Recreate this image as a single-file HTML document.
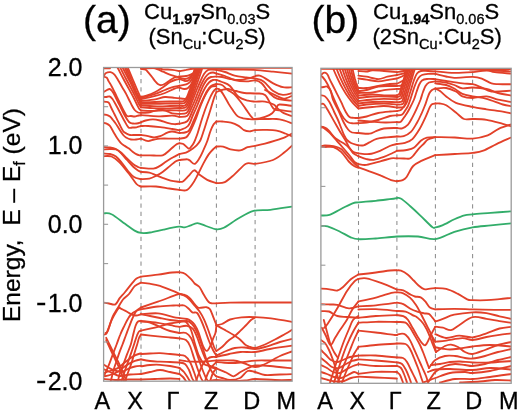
<!DOCTYPE html>
<html><head><meta charset="utf-8"><style>
html,body{margin:0;padding:0;background:#fff;}
svg{display:block;}
</style></head><body>
<svg width="520" height="414" viewBox="0 0 520 414">
<rect width="520" height="414" fill="#fff"/>
<clipPath id="ca"><rect x="103.6" y="67.5" width="188.5" height="313.7"/></clipPath>
<line x1="141.0" y1="67.5" x2="141.0" y2="381.2" stroke="#8c8c8c" stroke-width="1.05" stroke-dasharray="4.2,4.1" stroke-dashoffset="5.1"/>
<line x1="179.5" y1="67.5" x2="179.5" y2="381.2" stroke="#8c8c8c" stroke-width="1.05" stroke-dasharray="4.2,4.1" stroke-dashoffset="5.1"/>
<line x1="216.4" y1="67.5" x2="216.4" y2="381.2" stroke="#8c8c8c" stroke-width="1.05" stroke-dasharray="4.2,4.1" stroke-dashoffset="5.1"/>
<line x1="255.1" y1="67.5" x2="255.1" y2="381.2" stroke="#8c8c8c" stroke-width="1.05" stroke-dasharray="4.2,4.1" stroke-dashoffset="5.1"/>
<g clip-path="url(#ca)" fill="none" stroke-linejoin="round" stroke-linecap="round">
<filter id="fca" x="-5%" y="-5%" width="110%" height="110%"><feGaussianBlur stdDeviation="0.5"/></filter>
<g stroke="#e24129" stroke-width="1.85" filter="url(#fca)">
<path d="M103.6,76.5 C104.0,75.9 104.8,73.7 106.0,73.0 C107.2,72.3 109.2,71.9 110.6,72.2 C112.0,72.5 113.2,73.2 114.5,74.6 C115.8,76.0 117.0,78.3 118.3,80.4 C119.6,82.5 120.9,85.0 122.2,87.2 C123.5,89.5 125.0,91.8 126.1,93.9 C127.2,96.0 128.0,97.8 129.0,99.7 C130.0,101.6 131.0,103.8 131.9,105.5 C132.8,107.2 133.7,108.8 134.7,110.0 C135.7,111.2 136.9,112.0 138.0,112.5 C139.1,113.0 140.5,112.8 141.0,112.8"/>
<path d="M103.6,76.8 C104.1,77.0 105.9,77.0 106.8,77.8 C107.7,78.6 107.9,80.0 108.7,81.4 C109.5,82.8 110.6,84.4 111.6,86.2 C112.6,88.0 113.5,90.1 114.5,92.0 C115.5,93.9 116.4,95.8 117.4,97.8 C118.4,99.8 119.2,101.7 120.3,104.0 C121.4,106.3 123.0,109.5 124.1,111.5 C125.2,113.5 125.9,115.2 127.0,116.0 C128.1,116.8 129.6,115.9 130.9,116.0 C132.2,116.1 133.4,116.6 134.7,116.5 C136.0,116.4 137.5,115.7 138.6,115.5 C139.7,115.3 140.6,115.2 141.0,115.2"/>
<path d="M103.6,92.0 C104.2,91.7 106.0,90.5 107.0,90.0 C108.0,89.5 108.9,88.8 109.7,89.0 C110.5,89.2 111.2,90.0 112.0,91.0 C112.8,92.0 113.3,92.7 114.5,95.0 C115.7,97.3 117.7,101.5 119.3,104.7 C120.9,107.9 122.5,111.4 124.1,114.3 C125.7,117.2 127.5,120.5 129.0,122.0 C130.4,123.5 131.5,123.2 132.8,123.5 C134.1,123.8 135.3,123.7 136.7,123.5 C138.1,123.3 140.3,122.5 141.0,122.3"/>
<path d="M103.6,97.0 C104.0,97.0 105.0,97.1 106.0,97.0 C107.0,96.9 108.6,96.2 109.7,96.5 C110.8,96.8 111.5,97.6 112.5,99.0 C113.5,100.4 114.8,102.8 116.0,105.0 C117.2,107.2 118.6,109.8 120.0,112.5 C121.4,115.2 123.1,118.5 124.5,121.0 C125.9,123.5 127.2,126.4 128.5,127.5 C129.8,128.6 131.2,127.5 132.5,127.5 C133.8,127.5 135.1,127.5 136.5,127.3 C137.9,127.0 140.2,126.2 141.0,126.0"/>
<path d="M103.6,101.5 C104.0,101.5 104.9,101.6 105.8,101.8 C106.7,102.0 107.7,101.6 108.7,102.7 C109.7,103.8 110.6,106.6 111.6,108.5 C112.6,110.4 113.5,112.4 114.5,114.3 C115.5,116.2 116.4,118.2 117.4,120.1 C118.4,122.0 119.3,124.1 120.3,125.9 C121.3,127.8 122.2,129.9 123.2,131.2 C124.2,132.5 125.4,132.9 126.5,133.5 C127.6,134.1 128.6,134.8 130.0,135.0 C131.4,135.2 133.2,135.0 135.0,135.0 C136.8,135.0 140.0,135.0 141.0,135.0"/>
<path d="M103.6,114.5 C104.1,114.5 105.5,114.5 106.6,114.8 C107.7,115.1 108.9,115.6 110.0,116.5 C111.1,117.4 112.0,118.8 113.0,120.0 C114.0,121.2 114.7,122.0 115.7,123.5 C116.8,125.0 118.1,127.4 119.3,129.3 C120.5,131.2 121.9,133.4 123.0,134.8 C124.1,136.2 124.7,136.7 126.0,137.5 C127.3,138.3 129.3,139.2 131.0,139.5 C132.7,139.8 134.3,139.7 136.0,139.5 C137.7,139.3 140.2,138.8 141.0,138.6"/>
<path d="M103.6,123.0 C104.0,123.0 105.0,122.8 106.0,123.3 C107.0,123.8 108.5,124.3 109.7,125.7 C110.9,127.1 112.1,129.7 113.3,131.7 C114.5,133.7 115.7,136.0 116.9,137.8 C118.1,139.6 119.3,141.3 120.5,142.6 C121.7,143.9 122.8,144.6 124.2,145.6 C125.6,146.6 127.6,147.6 129.0,148.6 C130.4,149.6 131.4,150.8 132.6,151.7 C133.8,152.6 135.0,153.5 136.2,154.1 C137.3,154.7 138.7,155.1 139.5,155.3 C140.3,155.5 140.8,155.3 141.0,155.3"/>
<path d="M103.6,147.0 C104.7,147.1 107.9,147.2 110.0,147.5 C112.1,147.8 114.2,148.2 116.0,149.0 C117.8,149.8 119.2,150.9 121.0,152.5 C122.8,154.1 125.0,156.6 127.0,158.5 C129.0,160.4 131.2,162.6 133.0,164.0 C134.8,165.4 136.7,166.3 138.0,167.0 C139.3,167.7 140.5,167.8 141.0,167.9"/>
<path d="M103.6,149.5 C104.7,149.4 107.9,149.0 110.0,149.0 C112.1,149.0 114.2,148.8 116.0,149.5 C117.8,150.2 119.2,151.2 121.0,153.0 C122.8,154.8 125.0,157.8 127.0,160.0 C129.0,162.2 131.2,164.8 133.0,166.5 C134.8,168.2 136.7,169.6 138.0,170.5 C139.3,171.4 140.5,171.7 141.0,171.9"/>
<path d="M103.6,153.5 C104.7,153.6 107.9,153.5 110.0,154.0 C112.1,154.5 114.0,155.0 116.0,156.5 C118.0,158.0 120.0,160.6 122.0,163.0 C124.0,165.4 126.0,168.7 128.0,171.0 C130.0,173.3 131.8,175.6 134.0,177.0 C136.2,178.4 139.8,178.8 141.0,179.2"/>
<path d="M103.6,156.2 C104.9,156.2 108.9,155.5 111.5,156.5 C114.1,157.5 116.3,159.2 119.2,162.0 C122.1,164.8 125.9,169.8 128.8,173.5 C131.7,177.2 134.5,181.8 136.5,184.0 C138.5,186.2 140.2,186.1 141.0,186.5"/>
<path d="M117.5,67.5 C118.5,69.3 121.3,74.9 123.2,78.5 C125.1,82.1 127.2,85.8 129.0,89.1 C130.8,92.3 132.5,95.5 133.8,98.0 C135.1,100.5 135.8,102.2 136.7,104.0 C137.6,105.8 138.3,107.4 139.0,108.5 C139.7,109.6 140.7,110.2 141.0,110.5"/>
<path d="M120.2,67.5 C121.1,69.3 123.9,75.0 125.8,78.5 C127.7,82.0 129.6,85.6 131.3,88.8 C133.0,92.0 134.6,95.0 135.8,97.5 C137.0,100.0 137.7,101.8 138.6,103.5 C139.5,105.2 140.6,106.8 141.0,107.4"/>
<path d="M122.6,67.5 C123.5,69.2 126.3,74.7 128.0,78.0 C129.7,81.3 131.5,84.5 133.0,87.5 C134.5,90.5 136.1,93.6 137.2,96.0 C138.3,98.4 139.2,100.4 139.8,102.0 C140.4,103.6 140.8,104.9 141.0,105.5"/>
<path d="M124.8,67.5 C125.7,69.6 128.4,76.1 130.0,80.0 C131.6,83.9 133.1,87.9 134.5,91.0 C135.9,94.1 137.4,96.4 138.5,98.5 C139.6,100.6 140.6,102.9 141.0,103.8"/>
<path d="M126.3,67.5 C127.2,69.6 129.9,76.1 131.5,80.0 C133.1,83.9 134.7,88.0 136.0,91.0 C137.3,94.0 138.7,96.1 139.5,98.0 C140.3,99.9 140.8,101.8 141.0,102.5"/>
<path d="M127.8,67.5 C128.7,69.6 131.4,76.2 133.0,80.0 C134.6,83.8 136.3,87.7 137.5,90.5 C138.7,93.3 139.7,95.2 140.3,97.0 C140.9,98.8 140.9,100.3 141.0,101.0"/>
<path d="M104.0,68.2 L110.0,68.2"/>
<path d="M141.0,68.5 C143.4,68.4 151.6,67.9 155.3,68.0 C159.0,68.1 160.1,69.0 163.0,69.3 C165.9,69.6 169.9,69.5 172.7,69.8 C175.4,70.1 178.4,71.0 179.5,71.2"/>
<path d="M141.0,68.8 C141.8,69.0 144.4,69.1 145.7,69.8 C146.9,70.5 147.4,71.4 148.5,72.7 C149.6,74.0 151.3,76.0 152.4,77.5 C153.5,79.0 154.3,80.3 155.3,81.4 C156.3,82.5 157.2,83.7 158.2,84.3 C159.2,84.9 160.0,85.3 161.1,85.2 C162.2,85.1 163.6,84.6 165.0,83.8 C166.4,83.0 168.2,81.5 169.8,80.4 C171.4,79.4 173.0,78.2 174.6,77.5 C176.2,76.8 178.7,76.7 179.5,76.5"/>
<path d="M150.0,67.5 C151.2,67.8 154.8,68.3 157.0,69.0 C159.2,69.7 160.9,70.8 163.0,71.7 C165.1,72.6 167.9,73.9 169.8,74.6 C171.7,75.3 173.0,75.6 174.6,76.1 C176.2,76.6 178.7,77.3 179.5,77.5"/>
<path d="M141.0,96.8 C141.8,96.7 143.3,96.7 145.7,95.9 C148.1,95.1 152.4,93.5 155.3,92.0 C158.2,90.5 160.6,88.8 163.0,87.2 C165.4,85.6 167.6,83.6 169.8,82.3 C172.1,81.0 174.9,80.0 176.5,79.5 C178.1,79.0 179.0,79.1 179.5,79.0"/>
<path d="M141.0,97.8 C143.4,97.2 151.3,95.2 155.3,93.9 C159.3,92.6 162.1,91.1 165.0,90.0 C167.9,88.9 170.3,87.9 172.7,87.2 C175.1,86.5 178.4,86.0 179.5,85.7"/>
<path d="M141.0,99.0 C143.4,98.5 151.3,96.9 155.3,95.9 C159.3,94.9 161.8,94.2 165.0,93.0 C168.2,91.8 172.2,89.5 174.6,88.6 C177.0,87.7 178.7,87.7 179.5,87.5"/>
<path d="M141.0,101.0 C143.4,100.7 151.3,100.0 155.3,99.3 C159.3,98.6 161.8,97.2 165.0,97.0 C168.2,96.8 172.2,97.6 174.6,97.8 C177.0,98.0 178.7,98.2 179.5,98.3"/>
<path d="M141.0,102.5 C143.3,102.4 150.2,102.2 155.0,102.0 C159.8,101.8 165.9,101.6 170.0,101.5 C174.1,101.4 177.9,101.5 179.5,101.5"/>
<path d="M141.0,103.8 C142.5,103.8 146.8,103.8 150.0,103.8 C153.2,103.8 156.7,103.8 160.0,103.8 C163.3,103.8 166.8,103.5 170.0,103.5 C173.2,103.5 177.9,103.5 179.5,103.5"/>
<path d="M141.0,105.5 C142.5,105.6 146.8,105.9 150.0,106.0 C153.2,106.1 156.7,106.3 160.0,106.3 C163.3,106.3 166.8,106.1 170.0,106.0 C173.2,105.9 177.9,105.8 179.5,105.8"/>
<path d="M141.0,107.4 C142.5,107.5 146.8,107.8 150.0,108.0 C153.2,108.2 156.7,108.5 160.0,108.5 C163.3,108.5 166.8,108.4 170.0,108.3 C173.2,108.2 177.9,108.0 179.5,108.0"/>
<path d="M141.0,110.5 C142.5,110.5 146.8,110.8 150.0,110.8 C153.2,110.8 156.7,110.7 160.0,110.6 C163.3,110.5 166.8,110.2 170.0,110.2 C173.2,110.2 177.9,110.5 179.5,110.5"/>
<path d="M141.0,112.8 C142.2,112.8 145.9,112.8 148.1,112.5 C150.3,112.2 152.1,111.4 154.1,110.9 C156.1,110.4 158.2,109.7 160.2,109.7 C162.2,109.7 164.2,110.3 166.2,110.9 C168.2,111.5 170.0,112.8 172.2,113.3 C174.4,113.8 178.3,113.8 179.5,113.9"/>
<path d="M141.0,115.2 C142.2,115.3 144.9,115.5 148.1,115.7 C151.3,115.9 156.2,116.3 160.2,116.3 C164.2,116.3 169.0,115.6 172.2,115.7 C175.4,115.8 178.3,116.7 179.5,116.9"/>
<path d="M141.0,122.3 C141.8,122.0 143.7,121.0 145.7,120.5 C147.7,120.0 150.5,119.3 152.9,119.3 C155.3,119.3 157.8,119.9 160.2,120.5 C162.6,121.1 165.0,122.3 167.4,122.9 C169.8,123.5 172.6,124.1 174.6,124.2 C176.6,124.3 178.7,123.7 179.5,123.6"/>
<path d="M141.0,126.0 C142.2,126.0 144.9,125.8 148.1,126.0 C151.3,126.2 156.2,126.7 160.2,127.2 C164.2,127.7 169.0,128.5 172.2,129.0 C175.4,129.5 178.3,130.0 179.5,130.2"/>
<path d="M141.0,135.0 C142.2,135.2 145.9,135.8 148.1,136.2 C150.3,136.6 152.1,137.4 154.1,137.4 C156.1,137.4 158.0,137.0 160.2,136.2 C162.4,135.4 165.4,133.4 167.4,132.6 C169.4,131.8 170.2,131.4 172.2,131.5 C174.2,131.6 178.3,132.8 179.5,133.0"/>
<path d="M141.0,138.6 C142.2,139.0 145.9,140.9 148.1,141.1 C150.3,141.2 152.1,139.9 154.1,139.5 C156.1,139.1 157.2,138.8 160.2,138.6 C163.2,138.4 169.0,138.6 172.2,138.6 C175.4,138.6 178.3,138.6 179.5,138.6"/>
<path d="M141.0,155.3 C142.5,155.3 146.4,155.3 150.0,155.3 C153.6,155.3 159.2,156.3 162.6,155.3 C166.0,154.3 168.4,151.1 170.6,149.3 C172.8,147.5 174.4,145.7 175.9,144.7 C177.4,143.7 178.9,143.5 179.5,143.3"/>
<path d="M141.0,167.9 C143.1,168.0 150.1,168.9 153.3,168.6 C156.5,168.3 157.8,167.1 160.0,165.9 C162.2,164.7 164.4,162.7 166.6,161.3 C168.8,159.9 171.0,158.5 173.2,157.3 C175.3,156.1 178.4,154.6 179.5,154.0"/>
<path d="M141.0,179.2 C142.4,179.1 146.8,179.1 149.3,178.6 C151.8,178.1 153.8,177.0 156.0,175.9 C158.2,174.8 160.4,173.5 162.6,171.9 C164.8,170.3 167.0,168.4 169.2,166.6 C171.4,164.8 174.2,162.4 175.9,161.3 C177.6,160.2 178.9,160.2 179.5,160.0"/>
<path d="M141.0,171.9 C142.4,172.0 146.8,172.1 149.3,172.6 C151.8,173.1 153.8,174.3 156.0,175.2 C158.2,176.1 160.2,177.0 162.6,177.9 C165.0,178.8 167.8,179.9 170.6,180.6 C173.4,181.3 178.0,181.7 179.5,181.9"/>
<path d="M141.0,186.5 C143.5,186.5 151.3,186.2 156.0,186.5 C160.7,186.8 165.3,187.9 169.2,188.5 C173.1,189.1 177.8,189.7 179.5,189.9"/>
<path d="M179.5,71.2 C180.6,71.0 183.6,70.2 186.2,69.8 C188.8,69.3 191.9,68.8 195.0,68.5 C198.1,68.2 201.4,68.2 205.0,68.3 C208.6,68.3 214.5,68.7 216.4,68.8"/>
<path d="M179.5,76.5 C180.6,76.4 184.1,76.4 186.2,76.0 C188.3,75.6 191.0,74.3 192.0,74.0"/>
<path d="M179.5,77.5 C180.4,77.8 183.2,79.1 185.0,79.0 C186.8,78.9 188.5,78.2 190.0,77.0 C191.5,75.8 193.0,73.6 194.0,72.0 C195.0,70.4 195.7,68.2 196.0,67.5"/>
<path d="M179.5,79.0 C180.4,79.3 183.4,80.8 185.0,81.0 C186.6,81.2 187.7,81.2 189.0,80.0 C190.3,78.8 192.0,76.0 193.0,74.0 C194.0,72.0 194.7,69.0 195.0,68.0"/>
<path d="M179.5,85.7 C180.6,85.5 184.4,84.9 186.2,84.3 C187.9,83.7 188.8,83.4 190.0,82.0 C191.2,80.6 192.4,78.3 193.5,76.0 C194.6,73.7 196.0,69.3 196.5,68.0"/>
<path d="M179.5,87.5 C180.2,87.8 182.6,88.9 184.0,89.0 C185.4,89.1 186.7,89.0 188.0,88.0 C189.3,87.0 190.5,86.0 192.0,83.0 C193.5,80.0 196.0,72.6 197.0,70.0 C198.0,67.4 197.8,67.9 198.0,67.5"/>
<path d="M179.5,98.3 C180.6,98.4 184.5,99.4 186.2,98.7 C187.9,98.0 188.4,96.5 189.5,94.0 C190.6,91.5 191.9,87.2 193.0,84.0 C194.1,80.8 195.0,77.8 196.0,75.0 C197.0,72.2 198.5,68.8 199.0,67.5"/>
<path d="M179.5,101.5 C180.2,101.4 182.8,101.8 184.0,101.0 C185.2,100.2 186.0,99.0 187.0,97.0 C188.0,95.0 189.0,91.8 190.0,89.0 C191.0,86.2 192.0,83.0 193.0,80.0 C194.0,77.0 195.3,73.1 196.0,71.0 C196.7,68.9 197.1,68.1 197.3,67.5"/>
<path d="M179.5,103.5 C180.3,103.4 183.1,103.9 184.5,103.0 C185.9,102.1 186.9,100.2 188.0,98.0 C189.1,95.8 190.0,92.8 191.0,90.0 C192.0,87.2 193.0,84.0 194.0,81.0 C195.0,78.0 196.2,74.2 197.0,72.0 C197.8,69.8 198.2,68.2 198.5,67.5"/>
<path d="M179.5,105.8 C180.4,105.8 183.5,106.5 185.0,105.5 C186.5,104.5 187.4,102.2 188.5,100.0 C189.6,97.8 190.5,94.8 191.5,92.0 C192.5,89.2 193.5,86.0 194.5,83.0 C195.5,80.0 196.6,76.6 197.5,74.0 C198.4,71.4 199.4,68.6 199.8,67.5"/>
<path d="M179.5,108.0 C180.5,107.9 183.9,108.5 185.5,107.5 C187.1,106.5 187.9,104.2 189.0,102.0 C190.1,99.8 191.0,96.8 192.0,94.0 C193.0,91.2 194.0,88.0 195.0,85.0 C196.0,82.0 197.0,78.9 198.0,76.0 C199.0,73.1 200.5,68.9 201.0,67.5"/>
<path d="M179.5,110.5 C180.6,110.4 184.3,111.0 186.0,110.0 C187.7,109.0 188.4,106.8 189.5,104.5 C190.6,102.2 191.5,99.2 192.5,96.5 C193.5,93.8 194.4,91.1 195.5,88.0 C196.6,84.9 197.8,81.4 199.0,78.0 C200.2,74.6 201.9,69.2 202.5,67.5"/>
<path d="M179.5,113.9 C180.7,113.8 184.8,114.2 186.5,113.0 C188.2,111.8 188.8,109.5 190.0,107.0 C191.2,104.5 192.3,101.0 193.5,98.0 C194.7,95.0 195.8,91.8 197.0,89.0 C198.2,86.2 199.3,83.5 200.5,81.0 C201.7,78.5 202.8,75.8 204.0,74.0 C205.2,72.2 206.7,70.8 208.0,70.0 C209.3,69.2 210.6,69.5 212.0,69.5 C213.4,69.5 215.7,69.9 216.4,70.0"/>
<path d="M179.5,116.9 C180.8,116.8 185.1,117.3 187.0,116.0 C188.9,114.7 189.7,111.7 191.0,109.0 C192.3,106.3 193.8,103.0 195.0,100.0 C196.2,97.0 197.3,93.8 198.5,91.0 C199.7,88.2 200.8,85.3 202.0,83.0 C203.2,80.7 204.3,78.6 205.5,77.0 C206.7,75.4 207.8,74.2 209.0,73.5 C210.2,72.8 211.8,72.5 213.0,72.5 C214.2,72.5 215.8,73.3 216.4,73.5"/>
<path d="M179.5,123.6 C180.8,123.2 185.4,122.9 187.5,121.0 C189.6,119.1 190.6,115.0 192.0,112.0 C193.4,109.0 194.7,106.2 196.0,103.0 C197.3,99.8 198.8,96.0 200.0,93.0 C201.2,90.0 202.3,87.2 203.5,85.0 C204.7,82.8 205.8,80.8 207.0,79.5 C208.2,78.2 209.4,77.5 211.0,77.0 C212.6,76.5 215.5,76.6 216.4,76.5"/>
<path d="M179.5,130.2 C180.9,129.5 185.8,128.5 188.0,126.0 C190.2,123.5 191.4,118.5 193.0,115.0 C194.6,111.5 196.1,108.3 197.5,105.0 C198.9,101.7 200.2,97.8 201.5,95.0 C202.8,92.2 203.8,90.1 205.0,88.0 C206.2,85.9 207.7,83.8 209.0,82.5 C210.3,81.2 211.8,80.4 213.0,80.0 C214.2,79.6 215.8,80.0 216.4,80.0"/>
<path d="M179.5,133.0 C181.0,132.7 186.1,133.2 188.5,131.0 C190.9,128.8 192.2,123.8 194.0,120.0 C195.8,116.2 197.5,111.5 199.0,108.0 C200.5,104.5 201.7,101.8 203.0,99.0 C204.3,96.2 205.7,93.2 207.0,91.0 C208.3,88.8 209.4,87.2 211.0,86.0 C212.6,84.8 215.5,84.3 216.4,84.0"/>
<path d="M179.5,138.6 C180.6,138.4 184.2,138.5 186.0,137.4 C187.8,136.3 188.5,134.7 190.0,132.0 C191.5,129.3 193.5,124.7 195.0,121.0 C196.5,117.3 197.7,113.5 199.0,110.0 C200.3,106.5 201.7,103.0 203.0,100.0 C204.3,97.0 205.7,94.2 207.0,92.0 C208.3,89.8 209.4,88.0 211.0,87.0 C212.6,86.0 215.5,86.2 216.4,86.0"/>
<path d="M179.5,143.3 C180.1,143.4 181.8,143.1 183.3,144.0 C184.8,144.9 187.3,148.2 188.6,148.6 C189.9,149.0 190.3,147.6 191.2,146.6 C192.1,145.6 192.9,144.6 193.9,142.7 C194.9,140.8 195.8,138.4 197.0,135.0 C198.2,131.6 199.7,126.2 201.0,122.0 C202.3,117.8 203.7,113.7 205.0,110.0 C206.3,106.3 207.7,103.0 209.0,100.0 C210.3,97.0 211.8,93.9 213.0,92.0 C214.2,90.1 215.8,89.1 216.4,88.5"/>
<path d="M179.5,154.0 C180.6,153.8 184.3,153.2 186.0,152.6 C187.7,152.0 188.1,151.8 189.9,150.6 C191.7,149.4 194.8,147.1 196.6,145.3 C198.4,143.5 199.3,142.6 200.5,140.0 C201.7,137.4 202.8,133.5 204.0,130.0 C205.2,126.5 206.3,122.7 207.5,119.0 C208.7,115.3 209.9,111.5 211.0,108.0 C212.1,104.5 213.1,100.7 214.0,98.0 C214.9,95.3 216.0,93.0 216.4,92.0"/>
<path d="M179.5,160.0 C180.8,159.9 185.6,159.2 187.3,159.3 C189.0,159.4 188.7,159.8 189.9,160.6 C191.1,161.4 193.1,164.2 194.6,163.9 C196.1,163.6 197.8,160.8 199.2,158.6 C200.6,156.4 201.9,153.5 203.2,150.6 C204.5,147.7 206.0,144.6 207.2,141.3 C208.4,138.0 209.4,133.8 210.5,131.0 C211.6,128.2 212.5,126.1 213.5,124.5 C214.5,122.9 215.9,122.0 216.4,121.5"/>
<path d="M179.5,181.9 C180.1,181.8 181.8,182.2 183.3,181.2 C184.8,180.2 186.8,177.7 188.6,175.9 C190.4,174.1 192.4,170.5 194.2,170.3 C196.0,170.1 197.0,172.9 199.2,174.5 C201.4,176.1 204.3,178.4 207.2,179.8 C210.1,181.2 214.9,182.6 216.4,183.2"/>
<path d="M179.5,189.9 C180.7,189.9 184.4,191.2 186.6,190.2 C188.8,189.2 190.7,186.4 192.6,183.8 C194.5,181.2 196.1,177.8 197.9,174.5 C199.7,171.2 201.4,167.2 203.2,163.9 C205.0,160.6 206.7,157.2 208.5,154.6 C210.3,152.0 212.5,149.9 213.8,148.6 C215.1,147.3 216.0,146.9 216.4,146.6"/>
<path d="M216.4,68.8 C219.5,68.9 228.8,69.3 235.0,69.5 C241.2,69.7 247.5,69.4 253.9,69.8 C260.3,70.2 266.8,71.0 273.2,71.7 C279.6,72.4 289.0,73.4 292.1,73.7"/>
<path d="M200.0,67.8 L292.1,67.8"/>
<path d="M216.4,70.0 C217.8,70.3 222.0,71.1 225.0,72.0 C228.0,72.9 231.1,74.7 234.6,75.6 C238.1,76.5 242.8,77.0 246.2,77.5 C249.6,78.0 252.2,77.8 255.1,78.5 C258.0,79.2 260.6,79.3 263.6,81.4 C266.6,83.5 270.0,88.8 273.2,91.0 C276.4,93.2 279.8,94.6 282.9,94.9 C286.0,95.2 290.6,93.3 292.1,93.0"/>
<path d="M216.4,73.5 C217.8,73.9 222.0,74.9 225.0,76.0 C228.0,77.1 231.1,79.1 234.6,80.0 C238.1,80.9 242.8,81.3 246.2,81.4 C249.6,81.5 252.5,80.1 255.1,80.4 C257.7,80.7 259.2,81.2 261.6,83.3 C264.0,85.4 266.8,90.4 269.4,93.0 C272.0,95.6 273.3,97.4 277.1,98.7 C280.9,100.0 289.6,100.4 292.1,100.7"/>
<path d="M216.4,76.5 C217.3,76.6 219.7,76.6 222.0,77.0 C224.3,77.4 227.0,78.5 230.0,79.0 C233.0,79.5 236.7,80.2 240.0,80.0 C243.3,79.8 246.7,78.7 250.0,78.0 C253.3,77.3 255.8,74.7 259.7,75.6 C263.6,76.5 269.3,81.4 273.2,83.3 C277.1,85.2 279.8,86.5 282.9,87.2 C286.0,87.9 290.6,87.2 292.1,87.2"/>
<path d="M216.4,80.0 C217.3,80.3 219.7,81.0 222.0,82.0 C224.3,83.0 227.2,83.5 230.0,86.0 C232.8,88.5 235.5,94.3 238.5,96.8 C241.5,99.2 245.3,99.9 248.1,100.7 C250.9,101.5 252.3,101.4 255.1,101.6 C257.9,101.8 261.9,101.1 265.0,101.6 C268.1,102.1 271.5,103.3 273.7,104.5 C275.9,105.7 276.3,107.3 278.0,108.8 C279.7,110.2 281.4,112.0 283.8,113.2 C286.2,114.4 290.7,115.6 292.1,116.1"/>
<path d="M216.4,88.5 C217.0,88.8 218.8,88.7 220.1,90.0 C221.4,91.3 223.1,94.2 224.5,96.5 C225.9,98.8 227.4,101.7 228.8,104.1 C230.2,106.5 231.8,108.7 233.2,110.7 C234.6,112.7 235.9,114.8 237.5,116.1 C239.1,117.4 241.0,117.8 243.0,118.3 C245.0,118.8 247.5,118.9 249.5,119.1 C251.5,119.3 252.5,119.3 255.1,119.3 C257.7,119.3 261.4,119.0 265.0,119.0 C268.6,119.0 273.5,118.8 276.6,119.0 C279.7,119.2 281.2,119.7 283.8,120.4 C286.4,121.1 290.7,122.8 292.1,123.3"/>
<path d="M216.4,84.0 C217.3,84.2 220.1,84.0 222.0,85.0 C223.9,86.0 225.6,88.5 227.7,90.0 C229.8,91.5 232.1,92.3 234.3,94.3 C236.5,96.3 238.8,99.5 240.8,102.0 C242.8,104.5 244.4,107.1 246.2,109.6 C248.0,112.1 250.2,115.6 251.7,117.2 C253.2,118.8 252.9,119.1 255.1,119.0 C257.3,118.9 262.1,117.8 265.0,116.8 C267.9,115.8 270.3,114.8 272.2,113.2 C274.1,111.6 275.4,108.9 276.6,107.4 C277.8,106.0 276.9,104.8 279.5,104.5 C282.1,104.2 290.0,105.7 292.1,105.9"/>
<path d="M216.4,92.0 C217.3,91.7 220.1,90.5 222.0,90.0 C223.9,89.5 225.7,88.8 228.0,89.0 C230.3,89.2 233.3,90.3 236.0,91.0 C238.7,91.7 241.1,92.6 244.3,93.0 C247.5,93.4 251.7,93.2 255.1,93.5 C258.6,93.8 261.9,92.5 265.0,95.0 C268.1,97.5 270.8,106.2 273.7,108.8 C276.6,111.3 279.3,109.8 282.4,110.3 C285.5,110.8 290.5,111.5 292.1,111.7"/>
<path d="M265.0,90.0 C266.9,91.0 273.5,94.3 276.6,95.8 C279.7,97.2 281.2,98.7 283.8,98.7 C286.4,98.7 290.7,96.3 292.1,95.8"/>
<path d="M216.4,121.5 C217.4,121.5 219.9,121.3 222.3,121.5 C224.7,121.7 228.3,121.9 231.0,122.6 C233.7,123.3 236.4,124.6 238.6,125.9 C240.8,127.2 242.2,129.3 244.0,130.2 C245.8,131.1 247.7,131.3 249.5,131.3 C251.3,131.3 252.5,130.4 255.1,130.2 C257.7,130.0 261.4,129.8 265.0,129.9 C268.6,130.0 273.2,130.0 276.6,130.6 C280.0,131.2 282.7,132.5 285.3,133.5 C287.9,134.5 291.0,135.9 292.1,136.4"/>
<path d="M216.4,146.6 C217.5,146.6 220.7,146.1 223.1,146.6 C225.5,147.1 227.8,148.8 230.6,149.4 C233.4,150.0 237.4,150.8 240.2,150.4 C243.0,150.0 245.1,148.0 247.6,147.2 C250.1,146.4 252.2,146.4 255.1,145.8 C258.0,145.2 261.7,144.4 265.0,143.6 C268.3,142.8 271.7,141.8 275.1,140.7 C278.5,139.6 282.5,138.3 285.3,137.1 C288.1,135.9 291.0,134.1 292.1,133.5"/>
<path d="M216.4,183.2 C217.8,183.0 221.8,183.6 224.8,182.1 C227.8,180.6 231.0,177.4 234.5,174.4 C238.0,171.4 242.6,165.6 246.0,163.8 C249.4,162.0 250.6,164.4 255.1,163.8 C259.6,163.2 268.1,161.9 273.0,160.0 C277.9,158.1 281.3,154.7 284.5,152.3 C287.7,149.9 290.8,146.7 292.1,145.6"/>
<path d="M103.6,302.6 C104.5,302.8 107.0,303.2 109.0,303.5 C111.0,303.8 113.6,305.2 115.4,304.3 C117.2,303.4 118.1,300.2 119.7,298.1 C121.3,296.1 122.9,294.6 125.1,292.0 C127.3,289.4 130.9,284.6 132.8,282.4 C134.7,280.1 135.1,279.5 136.5,278.5 C137.9,277.5 140.2,276.9 141.0,276.6"/>
<path d="M105.5,333.0 C105.9,332.7 106.5,333.9 107.7,331.2 C108.9,328.5 111.1,320.5 112.7,316.7 C114.3,312.9 115.7,311.4 117.4,308.5 C119.2,305.6 121.3,301.7 123.2,299.3 C125.1,296.9 127.1,296.2 129.0,294.0 C130.9,291.8 132.7,288.1 134.7,286.2 C136.7,284.3 139.9,283.2 141.0,282.6"/>
<path d="M104.5,334.5 C104.8,334.3 105.7,334.8 106.4,333.5 C107.2,332.2 108.1,329.2 109.0,327.0 C109.9,324.8 110.2,323.0 111.6,320.1 C113.0,317.2 116.1,311.8 117.4,309.7 C118.8,307.6 119.3,307.8 119.7,307.4"/>
<path d="M119.7,308.0 C120.7,308.5 123.6,309.8 125.5,310.9 C127.4,311.9 129.6,313.5 131.3,314.3 C133.1,315.1 134.4,315.5 136.0,315.5 C137.6,315.5 140.2,314.4 141.0,314.2"/>
<path d="M110.7,381.2 C111.3,379.0 113.2,371.5 114.2,368.1 C115.2,364.7 115.8,363.4 116.6,361.0 C117.4,358.6 117.9,356.6 118.9,353.9 C119.9,351.1 121.3,347.6 122.5,344.5 C123.7,341.4 124.9,337.9 126.0,335.0 C127.1,332.1 127.9,329.8 129.0,327.0 C130.1,324.2 131.2,321.1 132.4,318.5 C133.6,315.9 134.6,313.3 136.0,311.5 C137.4,309.7 140.2,308.2 141.0,307.5"/>
<path d="M104.0,376.0 C104.4,375.1 105.6,372.6 106.5,370.5 C107.4,368.4 108.4,366.2 109.5,363.4 C110.6,360.6 111.8,357.0 113.0,353.9 C114.2,350.8 115.4,347.6 116.6,344.5 C117.8,341.4 118.9,337.8 120.1,335.0 C121.2,332.2 122.3,329.9 123.5,327.5 C124.7,325.1 125.8,322.7 127.0,320.5 C128.2,318.3 129.5,316.1 131.0,314.5 C132.5,312.9 134.3,311.9 136.0,311.0 C137.7,310.1 140.2,309.7 141.0,309.4"/>
<path d="M117.8,381.2 C118.2,379.8 119.1,375.9 120.1,372.9 C121.1,369.9 122.5,366.6 123.7,363.4 C124.9,360.2 126.0,357.0 127.2,353.9 C128.4,350.8 129.8,347.6 130.8,344.5 C131.8,341.4 132.3,338.1 133.1,335.0 C133.9,331.9 134.7,328.2 135.5,326.0 C136.3,323.8 137.1,322.3 138.0,321.5 C138.9,320.7 140.5,321.1 141.0,321.0"/>
<path d="M121.5,381.2 C122.0,379.7 123.4,375.2 124.5,372.0 C125.6,368.8 126.8,365.3 128.0,362.0 C129.2,358.7 130.4,355.2 131.5,352.0 C132.6,348.8 133.6,345.8 134.5,343.0 C135.4,340.2 136.2,337.4 137.0,335.5 C137.8,333.6 138.3,332.3 139.0,331.5 C139.7,330.7 140.7,330.8 141.0,330.6"/>
<path d="M125.0,381.2 C125.5,379.8 126.9,375.5 128.0,372.5 C129.1,369.5 130.4,366.2 131.5,363.0 C132.6,359.8 133.6,356.0 134.5,353.0 C135.4,350.0 136.2,347.5 137.0,345.0 C137.8,342.5 138.3,339.8 139.0,338.0 C139.7,336.2 140.7,335.1 141.0,334.5"/>
<path d="M106.2,337.8 C107.1,339.7 110.1,345.7 111.8,349.2 C113.5,352.7 115.2,355.9 116.6,358.7 C118.0,361.5 118.9,363.2 120.1,365.8 C121.3,368.4 122.7,371.5 123.7,374.0 C124.7,376.5 125.6,379.5 126.0,380.6"/>
<path d="M106.2,340.0 C107.0,341.8 109.5,347.2 111.0,350.5 C112.5,353.8 114.2,357.2 115.5,360.0 C116.8,362.8 117.9,365.0 119.0,367.5 C120.1,370.0 121.2,372.7 122.0,375.0 C122.8,377.3 123.7,380.2 124.0,381.2"/>
<path d="M104.0,372.9 C105.0,372.6 107.7,371.8 110.0,371.0 C112.3,370.2 115.5,369.4 117.8,368.1 C120.1,366.8 122.0,364.6 124.0,363.0 C126.0,361.4 127.8,360.0 129.6,358.7 C131.4,357.4 133.1,356.2 135.0,355.3 C136.9,354.4 140.0,353.6 141.0,353.3"/>
<path d="M104.0,376.4 C105.0,376.2 107.7,375.8 110.0,375.0 C112.3,374.2 115.5,373.0 117.8,371.7 C120.1,370.4 122.0,368.4 124.0,367.0 C126.0,365.6 127.8,364.4 129.6,363.4 C131.4,362.4 133.1,361.5 135.0,360.8 C136.9,360.1 140.0,359.6 141.0,359.4"/>
<path d="M104.0,364.8 C105.3,365.6 108.9,368.2 111.8,369.3 C114.7,370.4 118.3,371.9 121.3,371.7 C124.3,371.5 127.3,369.0 129.6,368.1 C131.9,367.2 133.1,366.9 135.0,366.5 C136.9,366.1 140.0,365.9 141.0,365.8"/>
<path d="M104.0,369.3 C105.3,369.9 109.3,371.9 112.0,373.0 C114.7,374.1 117.0,375.8 120.0,376.0 C123.0,376.2 126.5,374.8 130.0,374.5 C133.5,374.2 139.2,374.1 141.0,374.0"/>
<path d="M104.0,379.0 C105.8,379.2 111.0,379.9 115.0,380.0 C119.0,380.1 123.7,379.6 128.0,379.5 C132.3,379.4 138.8,379.5 141.0,379.5"/>
<path d="M141.0,276.6 C143.8,276.3 152.7,275.4 157.9,274.7 C163.1,274.0 168.4,272.9 172.0,272.5 C175.6,272.1 178.2,272.3 179.5,272.3"/>
<path d="M141.0,282.6 C143.8,283.1 152.8,284.0 157.9,285.3 C163.0,286.6 168.0,289.0 171.6,290.4 C175.2,291.8 178.2,293.3 179.5,293.9"/>
<path d="M141.0,307.5 C143.8,306.5 152.5,303.6 157.9,301.7 C163.3,299.8 169.8,297.2 173.4,295.9 C177.0,294.6 178.5,294.3 179.5,294.0"/>
<path d="M141.0,309.4 C143.8,308.9 152.5,307.1 157.9,306.5 C163.3,305.9 169.8,305.7 173.4,305.5 C177.0,305.3 178.5,305.5 179.5,305.5"/>
<path d="M141.0,314.2 C143.8,314.1 152.5,312.8 157.9,313.3 C163.3,313.8 169.8,316.3 173.4,317.1 C177.0,317.9 178.5,317.9 179.5,318.1"/>
<path d="M141.0,321.0 C143.8,321.3 152.5,322.1 157.9,322.9 C163.3,323.7 169.8,325.1 173.4,325.8 C177.0,326.5 178.5,326.6 179.5,326.8"/>
<path d="M141.0,330.6 C143.8,330.0 153.1,328.0 157.9,326.8 C162.7,325.6 166.4,324.3 170.0,323.5 C173.6,322.7 177.9,322.2 179.5,322.0"/>
<path d="M141.0,334.5 C143.8,334.8 153.1,335.9 157.9,336.4 C162.7,336.9 166.4,337.2 170.0,337.5 C173.6,337.8 177.9,338.2 179.5,338.4"/>
<path d="M141.0,354.0 C142.5,353.9 146.8,353.6 150.0,353.5 C153.2,353.4 156.7,353.1 160.0,353.2 C163.3,353.3 166.8,353.7 170.0,354.0 C173.2,354.3 177.9,354.8 179.5,355.0"/>
<path d="M141.0,359.4 C142.5,359.7 146.8,360.6 150.0,361.0 C153.2,361.4 156.7,361.5 160.0,361.7 C163.3,361.9 166.8,361.9 170.0,362.0 C173.2,362.1 177.9,362.4 179.5,362.5"/>
<path d="M141.0,366.4 C142.5,366.2 146.8,365.3 150.0,365.0 C153.2,364.7 156.7,364.6 160.0,364.8 C163.3,365.0 166.8,365.5 170.0,366.0 C173.2,366.5 177.9,367.7 179.5,368.0"/>
<path d="M141.0,374.1 C142.5,373.8 146.8,372.7 150.0,372.0 C153.2,371.3 156.7,370.0 160.0,370.0 C163.3,370.0 166.8,371.3 170.0,372.0 C173.2,372.7 177.9,373.7 179.5,374.0"/>
<path d="M141.0,379.5 C143.3,379.4 150.2,379.2 155.0,379.0 C159.8,378.8 165.9,378.5 170.0,378.5 C174.1,378.5 177.9,378.9 179.5,379.0"/>
<path d="M141.0,321.5 C142.5,321.7 146.8,321.6 150.0,322.5 C153.2,323.4 156.7,325.6 160.0,327.0 C163.3,328.4 166.8,330.0 170.0,331.0 C173.2,332.0 177.9,332.7 179.5,333.0"/>
<path d="M141.0,314.2 C142.5,314.5 146.8,315.4 150.0,316.0 C153.2,316.6 156.7,317.3 160.0,318.0 C163.3,318.7 166.8,319.5 170.0,320.0 C173.2,320.5 177.9,320.8 179.5,321.0"/>
<path d="M179.5,272.3 C180.4,272.5 183.0,272.6 184.9,273.7 C186.8,274.8 189.2,277.2 190.8,278.8 C192.4,280.4 193.2,282.1 194.6,283.5 C196.0,284.9 197.8,285.1 199.4,287.0 C201.0,288.9 202.4,292.6 204.0,295.1 C205.6,297.6 207.3,300.6 208.7,302.0 C210.0,303.4 210.8,303.1 212.1,303.3 C213.4,303.5 215.7,303.3 216.4,303.3"/>
<path d="M179.5,293.9 C180.1,294.0 181.6,293.9 183.2,294.5 C184.8,295.1 187.1,295.8 189.0,297.4 C190.9,299.0 193.2,302.6 194.8,304.3 C196.4,306.0 196.6,307.3 198.5,307.8 C200.4,308.3 204.4,307.0 206.3,307.2 C208.2,307.4 208.6,307.4 209.8,309.0 C211.0,310.6 212.2,314.4 213.3,317.1 C214.4,319.8 215.9,323.9 216.4,325.2"/>
<path d="M179.5,294.0 C180.2,294.2 182.4,294.7 184.0,295.5 C185.6,296.3 187.2,297.2 189.0,299.0 C190.8,300.8 193.3,303.9 195.0,306.0 C196.7,308.1 197.9,309.1 199.4,311.3 C200.9,313.5 202.7,316.6 204.0,319.4 C205.3,322.2 206.3,324.9 207.5,328.0 C208.7,331.1 209.9,334.8 211.0,338.0 C212.1,341.2 213.1,344.8 214.0,347.0 C214.9,349.2 216.0,350.3 216.4,351.0"/>
<path d="M179.5,305.5 C180.3,305.5 182.7,304.9 184.3,305.5 C185.9,306.1 187.7,307.9 189.0,309.0 C190.3,310.1 191.1,311.7 192.4,312.4 C193.8,313.1 195.7,311.7 197.1,313.0 C198.5,314.3 199.7,317.2 201.0,320.0 C202.3,322.8 203.7,326.5 205.0,330.0 C206.3,333.5 207.7,337.7 209.0,341.0 C210.3,344.3 211.8,347.6 213.0,350.0 C214.2,352.4 215.8,354.6 216.4,355.5"/>
<path d="M179.5,318.1 C180.7,318.2 185.0,318.5 186.9,319.0 C188.8,319.5 189.7,320.1 191.0,321.0 C192.3,321.9 193.2,322.6 194.5,324.5 C195.8,326.4 197.1,328.8 198.5,332.4 C199.9,336.0 201.8,343.2 203.2,346.3 C204.6,349.4 205.7,351.2 207.0,350.9 C208.3,350.6 209.9,346.7 210.9,344.7 C211.9,342.7 212.2,340.8 213.0,338.8 C213.8,336.8 214.9,335.1 215.5,332.8 C216.1,330.5 216.2,326.5 216.4,325.2"/>
<path d="M179.5,360.2 C180.6,360.4 183.8,360.9 186.0,361.2 C188.2,361.4 189.8,361.6 192.4,361.7 C195.0,361.8 198.7,361.8 201.6,361.7 C204.5,361.6 207.5,361.4 210.0,361.2 C212.5,361.0 215.3,360.6 216.4,360.5"/>
<path d="M179.5,326.8 C180.7,326.6 184.7,325.5 186.9,325.8 C189.1,326.1 191.0,326.8 192.7,328.7 C194.4,330.6 195.6,333.8 197.0,337.0 C198.4,340.2 199.7,344.5 201.0,348.0 C202.3,351.5 203.7,355.2 205.0,358.0 C206.3,360.8 207.7,363.3 209.0,365.0 C210.3,366.7 211.8,367.4 213.0,368.0 C214.2,368.6 215.8,368.3 216.4,368.4"/>
<path d="M179.5,322.0 C180.7,321.8 184.8,320.7 186.9,321.0 C189.0,321.3 190.5,322.5 192.0,324.0 C193.5,325.5 194.7,327.3 196.0,330.0 C197.3,332.7 198.7,336.3 200.0,340.0 C201.3,343.7 202.7,348.0 204.0,352.0 C205.3,356.0 206.7,360.7 208.0,364.0 C209.3,367.3 210.6,369.9 212.0,372.0 C213.4,374.1 215.7,375.7 216.4,376.4"/>
<path d="M179.5,333.0 C180.6,333.0 184.1,332.2 186.0,333.0 C187.9,333.8 189.5,335.5 191.0,338.0 C192.5,340.5 193.7,344.3 195.0,348.0 C196.3,351.7 197.7,356.2 199.0,360.0 C200.3,363.8 201.8,368.0 203.0,371.0 C204.2,374.0 205.2,376.3 206.0,378.0 C206.8,379.7 207.7,380.7 208.0,381.2"/>
<path d="M179.5,338.4 C180.6,338.7 184.2,338.7 186.0,340.0 C187.8,341.3 188.7,343.0 190.0,346.0 C191.3,349.0 192.7,354.0 194.0,358.0 C195.3,362.0 196.8,366.7 198.0,370.0 C199.2,373.3 200.2,376.1 201.0,378.0 C201.8,379.9 202.7,380.7 203.0,381.2"/>
<path d="M179.5,355.0 C180.4,355.2 183.2,354.8 185.0,356.0 C186.8,357.2 188.5,359.3 190.0,362.0 C191.5,364.7 192.8,368.8 194.0,372.0 C195.2,375.2 196.5,379.7 197.0,381.2"/>
<path d="M179.5,362.5 C180.4,362.8 183.4,362.8 185.0,364.0 C186.6,365.2 187.8,367.7 189.0,370.0 C190.2,372.3 191.2,376.1 192.0,378.0 C192.8,379.9 193.7,380.7 194.0,381.2"/>
<path d="M179.5,368.0 C180.2,368.7 182.6,370.3 184.0,372.0 C185.4,373.7 187.0,376.5 188.0,378.0 C189.0,379.5 189.7,380.7 190.0,381.2"/>
<path d="M179.5,374.0 C180.1,374.5 181.9,375.8 183.0,377.0 C184.1,378.2 185.5,380.5 186.0,381.2"/>
<path d="M179.5,321.0 C180.6,321.2 184.1,320.5 186.0,322.0 C187.9,323.5 189.5,326.3 191.0,330.0 C192.5,333.7 193.7,339.7 195.0,344.0 C196.3,348.3 197.5,352.7 199.0,356.0 C200.5,359.3 202.2,362.3 204.0,364.0 C205.8,365.7 207.9,365.3 210.0,366.0 C212.1,366.7 215.3,367.7 216.4,368.0"/>
<path d="M216.4,303.3 C218.7,303.2 223.6,302.7 230.0,302.6 C236.4,302.5 247.6,302.5 255.1,302.5 C262.6,302.5 268.8,302.5 275.0,302.5 C281.2,302.5 289.2,302.5 292.1,302.5"/>
<path d="M216.4,325.2 C217.3,325.0 219.7,324.9 222.0,324.0 C224.3,323.1 226.8,320.6 230.1,319.5 C233.3,318.4 237.3,317.7 241.5,317.3 C245.7,316.9 250.2,316.9 255.1,317.1 C260.0,317.3 264.8,317.6 271.0,318.4 C277.2,319.2 288.6,321.2 292.1,321.8"/>
<path d="M216.4,325.2 C218.0,326.1 223.1,328.9 226.2,330.7 C229.3,332.4 232.5,334.2 234.8,335.7 C237.1,337.2 238.3,338.0 240.0,339.5 C241.7,341.0 243.5,343.3 245.0,344.5 C246.5,345.7 247.3,345.9 249.0,346.5 C250.7,347.1 252.4,348.1 255.1,347.8 C257.8,347.5 261.7,345.9 265.0,344.5 C268.3,343.1 271.7,341.2 275.0,339.5 C278.3,337.8 282.1,335.6 285.0,334.0 C287.9,332.4 290.9,330.5 292.1,329.8"/>
<path d="M216.4,351.0 C217.3,350.3 220.1,348.7 222.0,347.0 C223.9,345.3 225.9,342.8 228.0,341.0 C230.1,339.2 232.7,337.7 234.8,336.0 C236.9,334.3 238.6,332.5 240.5,330.7 C242.4,328.9 244.4,326.8 246.2,325.0 C247.9,323.2 249.5,321.2 251.0,320.0 C252.5,318.8 254.4,317.9 255.1,317.5"/>
<path d="M216.4,355.5 C218.0,354.8 223.1,352.2 226.2,351.0 C229.3,349.8 231.7,348.6 234.8,348.0 C237.9,347.4 241.4,347.3 244.8,347.5 C248.2,347.7 251.7,349.1 255.1,349.0 C258.5,348.9 260.9,348.2 265.0,347.0 C269.1,345.8 275.5,343.4 280.0,342.0 C284.5,340.6 290.1,339.4 292.1,338.9"/>
<path d="M216.4,357.0 C218.5,356.5 225.1,354.8 229.1,354.0 C233.1,353.2 236.2,352.3 240.5,352.0 C244.8,351.7 250.2,352.5 255.1,352.0 C260.0,351.5 263.8,350.1 270.0,349.0 C276.2,347.9 288.4,346.2 292.1,345.7"/>
<path d="M216.4,360.5 C219.2,360.5 228.9,360.1 233.4,360.5 C237.9,360.9 239.7,361.9 243.3,363.0 C246.9,364.1 251.5,366.8 255.1,367.0 C258.7,367.2 260.9,365.8 265.0,364.0 C269.1,362.2 275.5,358.1 280.0,356.0 C284.5,353.9 290.1,352.2 292.1,351.4"/>
<path d="M216.4,362.0 C218.5,362.2 225.1,362.9 229.1,363.0 C233.1,363.1 236.2,362.9 240.5,362.5 C244.8,362.1 250.2,360.9 255.1,360.6 C260.0,360.3 263.8,360.5 270.0,360.5 C276.2,360.5 288.4,360.5 292.1,360.5"/>
<path d="M216.4,368.4 C218.0,369.1 223.4,371.2 226.2,372.5 C229.0,373.8 231.0,376.4 233.4,376.3 C235.8,376.2 237.9,373.4 240.5,372.0 C243.1,370.6 246.6,368.8 249.0,367.7 C251.4,366.6 251.6,365.8 255.1,365.5 C258.6,365.2 263.8,365.5 270.0,366.0 C276.2,366.5 288.4,368.0 292.1,368.4"/>
<path d="M216.4,376.4 C217.3,376.7 219.7,377.4 222.0,378.0 C224.3,378.6 227.0,380.0 230.0,380.0 C233.0,380.0 237.1,379.5 240.0,378.0 C242.9,376.5 245.1,372.0 247.6,371.0 C250.1,370.0 252.2,371.3 255.1,372.0 C258.0,372.7 260.9,374.6 265.0,375.0 C269.1,375.4 275.5,374.6 280.0,374.5 C284.5,374.4 290.1,374.2 292.1,374.1"/>
<path d="M208.0,381.2 C209.4,381.0 212.7,380.0 216.4,380.0 C220.1,380.0 225.2,380.9 230.0,381.0 C234.8,381.1 240.8,380.8 245.0,380.5 C249.2,380.2 250.1,379.1 255.1,379.0 C260.1,378.9 268.8,379.8 275.0,380.0 C281.2,380.2 289.2,380.0 292.1,380.0"/>
<path d="M196.0,381.2 C196.5,379.8 197.8,375.9 199.0,373.0 C200.2,370.1 201.5,366.4 203.0,364.0 C204.5,361.6 206.5,359.7 208.0,358.5 C209.5,357.3 210.6,357.2 212.0,357.0 C213.4,356.8 215.7,357.0 216.4,357.0"/>
<path d="M205.0,381.2 C205.5,379.8 206.9,375.4 208.0,373.0 C209.1,370.6 210.1,368.8 211.5,367.0 C212.9,365.2 215.6,362.8 216.4,362.0"/>
<path d="M216.4,368.4 C215.8,369.2 214.1,370.9 213.0,373.0 C211.9,375.1 210.5,379.8 210.0,381.2"/>
</g>
<g stroke="#33ad6a" stroke-width="1.8" filter="url(#fca)">
<path d="M103.6,213.3 C104.9,213.5 107.9,212.4 111.5,214.2 C115.1,215.9 121.2,221.1 125.0,223.8 C128.8,226.5 131.9,229.1 134.6,230.6 C137.3,232.1 138.4,232.6 141.0,232.9 C143.6,233.2 146.2,233.1 150.0,232.5 C153.8,231.9 158.7,230.6 163.5,229.6 C168.3,228.6 175.3,227.1 178.8,226.7 C182.3,226.3 182.7,227.5 184.6,227.3 C186.5,227.1 187.9,226.4 190.0,225.7 C192.1,225.0 194.7,223.0 197.4,223.1 C200.1,223.2 202.8,225.0 206.0,226.0 C209.2,227.0 213.4,229.0 216.4,229.3 C219.4,229.6 220.1,229.6 223.8,227.8 C227.5,226.0 233.8,221.1 238.7,218.3 C243.6,215.5 248.2,212.3 253.5,210.9 C258.8,209.5 264.0,210.5 270.4,209.8 C276.8,209.1 288.5,207.1 292.1,206.6"/>
</g></g>
<rect x="103.6" y="67.5" width="188.5" height="313.7" fill="none" stroke="#9a9a9a" stroke-width="1.3"/>
<line x1="103.6" y1="106.7" x2="108.1" y2="106.7" stroke="#9a9a9a" stroke-width="1.1"/>
<line x1="103.6" y1="145.9" x2="108.1" y2="145.9" stroke="#9a9a9a" stroke-width="1.1"/>
<line x1="103.6" y1="185.1" x2="108.1" y2="185.1" stroke="#9a9a9a" stroke-width="1.1"/>
<line x1="103.6" y1="224.3" x2="108.1" y2="224.3" stroke="#9a9a9a" stroke-width="1.1"/>
<line x1="103.6" y1="263.6" x2="108.1" y2="263.6" stroke="#9a9a9a" stroke-width="1.1"/>
<line x1="103.6" y1="302.8" x2="108.1" y2="302.8" stroke="#9a9a9a" stroke-width="1.1"/>
<line x1="103.6" y1="342.0" x2="108.1" y2="342.0" stroke="#9a9a9a" stroke-width="1.1"/>
<clipPath id="cb"><rect x="320.9" y="68.3" width="190.3" height="315.0"/></clipPath>
<line x1="358.5" y1="68.3" x2="358.5" y2="383.3" stroke="#8c8c8c" stroke-width="1.05" stroke-dasharray="4.2,4.1" stroke-dashoffset="5.1"/>
<line x1="396.9" y1="68.3" x2="396.9" y2="383.3" stroke="#8c8c8c" stroke-width="1.05" stroke-dasharray="4.2,4.1" stroke-dashoffset="5.1"/>
<line x1="435.4" y1="68.3" x2="435.4" y2="383.3" stroke="#8c8c8c" stroke-width="1.05" stroke-dasharray="4.2,4.1" stroke-dashoffset="5.1"/>
<line x1="472.6" y1="68.3" x2="472.6" y2="383.3" stroke="#8c8c8c" stroke-width="1.05" stroke-dasharray="4.2,4.1" stroke-dashoffset="5.1"/>
<g clip-path="url(#cb)" fill="none" stroke-linejoin="round" stroke-linecap="round">
<filter id="fcb" x="-5%" y="-5%" width="110%" height="110%"><feGaussianBlur stdDeviation="0.5"/></filter>
<g stroke="#e24129" stroke-width="1.85" filter="url(#fcb)">
<path d="M333.1,68.5 C333.9,70.4 336.5,76.4 338.2,79.9 C339.8,83.4 341.5,86.5 343.2,89.4 C344.9,92.4 346.8,95.2 348.3,97.3 C349.8,99.4 350.9,100.8 352.1,102.1 C353.2,103.5 354.3,104.6 355.1,105.4 C356.0,106.3 356.6,106.9 357.1,107.4 C357.7,107.9 358.2,108.3 358.4,108.5"/>
<path d="M336.5,68.5 C337.2,70.3 339.4,75.9 340.9,79.2 C342.3,82.4 343.8,85.4 345.3,88.1 C346.7,90.9 348.4,93.5 349.6,95.5 C350.9,97.5 351.9,98.8 352.9,100.0 C353.9,101.3 354.8,102.3 355.6,103.1 C356.3,103.9 356.8,104.5 357.3,104.9 C357.8,105.4 358.2,105.8 358.4,106.0"/>
<path d="M339.5,68.5 C340.1,70.2 342.0,75.4 343.3,78.5 C344.5,81.5 345.8,84.3 347.1,86.8 C348.3,89.4 349.7,91.9 350.8,93.7 C351.9,95.6 352.8,96.8 353.7,97.9 C354.5,99.1 355.3,100.1 355.9,100.8 C356.6,101.6 357.0,102.1 357.5,102.5 C357.9,103.0 358.2,103.3 358.4,103.5"/>
<path d="M342.2,68.5 C342.7,70.0 344.4,74.9 345.4,77.7 C346.5,80.6 347.6,83.2 348.7,85.5 C349.8,87.9 351.0,90.2 351.9,91.9 C352.9,93.6 353.6,94.7 354.3,95.8 C355.1,96.9 355.8,97.8 356.3,98.5 C356.8,99.2 357.2,99.7 357.6,100.1 C357.9,100.5 358.3,100.8 358.4,101.0"/>
<path d="M344.6,68.5 C345.1,69.9 346.4,74.3 347.4,76.9 C348.3,79.5 349.2,81.8 350.1,84.0 C351.0,86.1 352.1,88.2 352.9,89.7 C353.7,91.3 354.3,92.3 354.9,93.3 C355.6,94.3 356.1,95.1 356.6,95.7 C357.1,96.4 357.4,96.8 357.7,97.2 C358.0,97.5 358.3,97.9 358.4,98.0"/>
<path d="M346.8,68.5 C347.2,69.8 348.3,73.8 349.1,76.2 C349.9,78.5 350.7,80.7 351.4,82.6 C352.2,84.6 353.1,86.5 353.8,87.9 C354.4,89.4 355.0,90.3 355.5,91.2 C356.0,92.1 356.5,92.8 356.9,93.4 C357.3,94.0 357.6,94.4 357.8,94.7 C358.1,95.1 358.3,95.4 358.4,95.5"/>
<path d="M348.8,68.5 C349.1,69.7 350.1,73.3 350.7,75.5 C351.4,77.6 352.0,79.6 352.6,81.3 C353.3,83.1 354.0,84.8 354.6,86.1 C355.1,87.4 355.6,88.3 356.0,89.1 C356.4,89.9 356.8,90.6 357.2,91.1 C357.5,91.7 357.7,92.0 357.9,92.3 C358.1,92.6 358.3,92.9 358.4,93.0"/>
<path d="M350.8,68.5 C351.1,69.6 351.8,73.0 352.3,75.0 C352.8,76.9 353.3,78.7 353.8,80.4 C354.3,82.0 354.9,83.6 355.4,84.8 C355.8,86.0 356.2,86.8 356.5,87.6 C356.8,88.4 357.2,89.0 357.4,89.5 C357.7,90.0 357.9,90.3 358.0,90.6 C358.2,90.9 358.3,91.1 358.4,91.2"/>
<path d="M352.5,68.5 C352.7,69.4 353.3,72.3 353.7,74.0 C354.1,75.8 354.5,77.3 354.9,78.7 C355.3,80.1 355.7,81.5 356.0,82.5 C356.4,83.6 356.7,84.2 356.9,84.9 C357.2,85.6 357.4,86.1 357.6,86.5 C357.8,86.9 358.0,87.2 358.1,87.5 C358.2,87.7 358.4,87.9 358.4,88.0"/>
<path d="M320.9,76.0 C321.2,75.6 321.8,74.0 322.5,73.5 C323.2,73.0 324.2,72.5 325.0,72.7 C325.8,72.9 326.7,73.4 327.5,74.5 C328.3,75.6 328.3,76.4 329.6,79.1 C330.9,81.8 333.5,86.8 335.4,90.7 C337.3,94.6 339.5,98.7 341.2,102.2 C342.9,105.8 344.4,109.5 345.8,112.0 C347.2,114.5 348.1,116.0 349.5,117.0 C350.9,118.0 352.4,117.6 353.9,117.8 C355.4,118.0 357.6,118.0 358.4,118.0"/>
<path d="M320.9,76.5 C321.2,76.6 321.5,75.8 322.6,77.0 C323.7,78.2 325.8,80.9 327.3,83.7 C328.9,86.5 330.4,90.6 331.9,94.1 C333.4,97.6 335.1,101.6 336.5,104.6 C337.9,107.6 338.8,109.7 340.0,112.0 C341.2,114.3 342.6,116.8 344.0,118.5 C345.4,120.2 347.0,121.7 348.5,122.5 C350.0,123.3 351.4,123.2 353.0,123.3 C354.6,123.4 357.5,123.2 358.4,123.2"/>
<path d="M320.9,87.2 C321.4,87.2 322.9,87.1 324.0,87.0 C325.1,86.9 326.2,86.0 327.3,86.6 C328.4,87.2 329.7,88.5 330.7,90.7 C331.7,92.9 331.7,96.5 333.1,100.0 C334.5,103.5 337.2,107.9 338.9,111.6 C340.6,115.3 342.0,119.0 343.5,122.0 C345.0,125.0 346.7,127.8 348.1,129.5 C349.5,131.2 350.3,131.9 352.0,132.5 C353.7,133.1 357.3,132.9 358.4,133.0"/>
<path d="M320.9,95.3 C321.6,95.5 323.6,95.2 325.0,96.4 C326.4,97.6 328.1,99.6 329.6,102.2 C331.1,104.8 332.8,109.0 334.2,112.0 C335.6,115.0 336.8,117.3 338.0,120.0 C339.2,122.7 340.2,125.5 341.2,128.0 C342.2,130.5 343.0,133.0 344.0,135.0 C345.0,137.0 345.8,138.7 347.0,140.0 C348.2,141.3 349.1,142.1 351.0,143.0 C352.9,143.9 357.2,144.9 358.4,145.3"/>
<path d="M320.9,104.1 C321.4,104.1 322.7,103.2 323.8,104.1 C324.9,105.0 326.0,107.1 327.3,109.3 C328.6,111.5 330.4,114.7 331.9,117.4 C333.4,120.1 334.9,122.8 336.5,125.5 C338.1,128.2 339.6,131.0 341.2,133.6 C342.8,136.2 344.4,138.6 345.8,141.0 C347.2,143.4 348.2,146.2 349.5,148.0 C350.8,149.8 352.0,151.1 353.5,152.0 C355.0,152.9 357.6,153.1 358.4,153.3"/>
<path d="M320.9,126.5 C321.4,126.6 322.6,126.6 323.8,127.2 C325.1,127.8 326.7,128.4 328.4,130.1 C330.1,131.8 332.4,135.3 334.2,137.1 C335.9,138.8 337.1,139.4 338.9,140.6 C340.6,141.8 343.0,142.8 344.7,144.0 C346.4,145.2 347.9,146.5 349.3,148.0 C350.7,149.5 351.5,151.6 353.0,153.0 C354.5,154.4 357.5,155.7 358.4,156.2"/>
<path d="M320.9,127.5 C321.4,127.6 322.4,127.0 323.8,127.9 C325.2,128.8 327.3,130.5 329.5,132.7 C331.7,134.9 334.6,138.4 337.2,141.3 C339.8,144.2 342.8,147.6 344.9,150.0 C347.0,152.4 348.4,154.0 350.0,156.0 C351.6,158.0 353.1,160.7 354.5,162.0 C355.9,163.3 357.8,163.8 358.4,164.1"/>
<path d="M320.9,146.3 C321.6,146.2 322.9,145.5 325.0,145.5 C327.1,145.5 330.7,145.6 333.4,146.2 C336.1,146.8 338.5,147.1 341.1,149.0 C343.7,150.9 346.6,155.3 348.8,157.7 C351.0,160.1 352.9,161.9 354.5,163.5 C356.1,165.1 357.8,166.4 358.4,167.0"/>
<path d="M320.9,146.8 C321.6,146.8 322.9,146.9 325.0,147.0 C327.1,147.1 330.7,146.3 333.4,147.1 C336.1,147.9 338.5,149.5 341.1,151.9 C343.7,154.3 346.6,159.1 348.8,161.5 C351.0,163.9 352.9,165.3 354.5,166.3 C356.1,167.3 357.8,167.5 358.4,167.7"/>
<path d="M320.9,68.8 L358.4,69.2"/>
<path d="M358.4,69.2 L397.0,69.2"/>
<path d="M358.4,71.0 C359.8,71.1 364.3,71.6 366.6,71.5 C368.9,71.4 369.5,70.5 372.4,70.4 C375.3,70.3 379.9,70.7 384.0,71.0 C388.1,71.3 394.8,71.9 396.9,72.1"/>
<path d="M358.4,75.6 C359.8,75.8 363.3,76.1 366.6,76.7 C369.9,77.3 374.7,79.1 378.2,79.1 C381.7,79.1 384.3,77.4 387.4,76.7 C390.5,76.0 395.3,75.3 396.9,75.0"/>
<path d="M358.4,78.5 C359.8,78.7 363.3,79.1 366.6,79.6 C369.9,80.1 374.3,81.4 378.2,81.4 C382.1,81.4 386.7,80.1 389.8,79.6 C392.9,79.1 395.7,78.7 396.9,78.5"/>
<path d="M358.4,88.0 C359.8,88.0 363.3,88.3 366.6,88.0 C369.9,87.7 374.3,86.7 378.2,86.0 C382.1,85.3 386.7,84.4 389.8,84.0 C392.9,83.6 395.7,83.8 396.9,83.7"/>
<path d="M358.4,91.2 C359.8,91.0 363.3,90.8 366.6,90.0 C369.9,89.2 374.3,87.3 378.2,86.6 C382.1,85.9 386.7,86.1 389.8,86.0 C392.9,85.9 395.7,86.0 396.9,86.0"/>
<path d="M358.4,93.0 C360.7,92.9 368.1,93.0 372.4,92.5 C376.7,92.0 379.9,90.7 384.0,90.1 C388.1,89.5 394.8,89.1 396.9,88.9"/>
<path d="M358.4,95.5 C360.7,95.3 368.1,94.5 372.4,94.5 C376.7,94.5 379.9,95.2 384.0,95.3 C388.1,95.4 394.8,95.3 396.9,95.3"/>
<path d="M358.4,98.0 C359.8,97.8 363.3,97.3 366.6,97.0 C369.9,96.7 373.1,96.4 378.2,96.4 C383.2,96.4 393.8,96.9 396.9,97.0"/>
<path d="M358.4,101.0 C360.7,100.8 368.1,99.9 372.4,99.5 C376.7,99.1 379.9,98.8 384.0,98.8 C388.1,98.8 394.8,99.2 396.9,99.3"/>
<path d="M358.4,103.5 C360.7,103.2 368.1,102.3 372.4,102.0 C376.7,101.7 379.9,101.7 384.0,101.7 C388.1,101.7 394.8,102.1 396.9,102.2"/>
<path d="M358.4,106.0 C359.8,105.8 362.3,104.9 366.6,104.5 C370.9,104.1 378.9,103.6 384.0,103.6 C389.1,103.6 394.8,104.4 396.9,104.6"/>
<path d="M358.4,108.5 C360.7,108.2 368.1,107.4 372.4,107.0 C376.7,106.6 379.9,105.9 384.0,106.0 C388.1,106.1 394.8,107.2 396.9,107.5"/>
<path d="M358.4,118.0 C359.8,117.8 363.3,117.3 366.6,116.5 C369.9,115.7 374.3,113.8 378.2,113.0 C382.1,112.2 386.9,111.8 390.0,111.5 C393.1,111.2 395.8,111.2 396.9,111.1"/>
<path d="M358.4,123.2 C359.8,123.1 363.3,123.1 366.6,122.6 C369.9,122.1 374.3,121.1 378.2,120.0 C382.1,118.9 386.9,116.8 390.0,116.0 C393.1,115.2 395.8,115.4 396.9,115.3"/>
<path d="M358.4,133.0 C360.2,133.1 366.6,133.9 369.4,133.7 C372.2,133.4 372.8,132.4 375.2,131.5 C377.6,130.6 380.3,129.1 383.9,128.5 C387.5,127.9 394.7,128.1 396.9,128.0"/>
<path d="M358.4,145.3 C359.3,145.3 361.8,145.8 363.6,145.3 C365.4,144.8 367.2,143.5 369.4,142.4 C371.6,141.3 373.7,139.7 376.6,138.8 C379.5,138.0 383.4,137.7 386.8,137.3 C390.2,136.9 395.2,136.6 396.9,136.5"/>
<path d="M358.4,153.3 C360.2,153.4 365.6,154.5 369.4,154.0 C373.2,153.5 377.6,151.7 381.0,150.4 C384.4,149.1 387.1,147.1 389.7,146.0 C392.3,144.9 395.7,144.3 396.9,144.0"/>
<path d="M358.4,156.2 C359.8,156.7 363.9,158.5 366.5,159.1 C369.1,159.7 370.8,160.2 373.7,159.8 C376.6,159.4 380.8,158.0 383.9,156.9 C387.0,155.8 390.4,154.0 392.6,153.0 C394.8,152.0 396.2,151.2 396.9,150.8"/>
<path d="M358.4,164.1 C359.8,164.2 362.7,165.4 366.5,164.9 C370.3,164.4 376.9,162.3 381.0,161.2 C385.1,160.1 388.5,158.8 391.1,158.3 C393.8,157.8 395.9,158.4 396.9,158.4"/>
<path d="M358.4,167.3 C360.2,168.0 365.6,170.0 369.4,171.4 C373.2,172.8 377.4,174.2 381.0,175.7 C384.6,177.1 388.5,179.2 391.1,180.1 C393.8,181.0 395.9,181.0 396.9,181.2"/>
<path d="M358.4,120.5 C360.3,120.7 365.6,121.2 370.0,121.5 C374.4,121.8 380.5,122.4 385.0,122.5 C389.5,122.6 394.9,122.2 396.9,122.1"/>
<path d="M396.9,95.3 C396.9,95.3 396.6,95.3 397.0,95.1 C397.4,94.8 398.9,94.9 399.5,93.8 C400.1,92.7 400.4,90.3 400.8,88.8 C401.3,87.2 401.7,85.8 402.2,84.4 C402.6,83.0 403.1,81.6 403.5,80.2 C403.9,78.9 404.4,77.6 404.8,76.2 C405.3,74.9 405.7,73.6 406.2,72.3 C406.6,71.0 407.3,69.1 407.5,68.5"/>
<path d="M396.9,97.0 C397.1,97.0 397.4,97.0 398.0,96.8 C398.6,96.5 399.8,96.6 400.5,95.5 C401.2,94.4 401.4,91.8 401.9,90.1 C402.4,88.4 402.9,87.0 403.3,85.5 C403.8,83.9 404.3,82.5 404.8,81.0 C405.2,79.6 405.7,78.2 406.2,76.8 C406.6,75.3 407.1,74.0 407.6,72.6 C408.1,71.2 408.8,69.2 409.0,68.5"/>
<path d="M396.9,99.3 C397.2,99.3 398.2,99.3 399.0,99.1 C399.8,98.8 400.8,99.0 401.5,97.8 C402.2,96.6 402.5,93.8 403.0,92.0 C403.5,90.1 404.0,88.5 404.5,86.9 C405.0,85.3 405.5,83.7 406.0,82.1 C406.5,80.5 407.0,79.0 407.5,77.5 C408.0,75.9 408.5,74.4 409.0,72.9 C409.5,71.4 410.2,69.2 410.5,68.5"/>
<path d="M396.9,102.2 C397.4,102.2 399.1,102.2 400.0,102.0 C400.9,101.8 401.8,102.0 402.5,100.7 C403.2,99.4 403.6,96.3 404.1,94.3 C404.6,92.3 405.1,90.5 405.7,88.7 C406.2,86.9 406.7,85.2 407.2,83.4 C407.8,81.7 408.3,80.0 408.8,78.3 C409.4,76.7 409.9,75.0 410.4,73.4 C410.9,71.7 411.7,69.3 412.0,68.5"/>
<path d="M396.9,104.6 C397.6,104.6 399.9,104.6 401.0,104.4 C402.1,104.1 402.8,104.5 403.5,103.1 C404.2,101.7 404.6,98.3 405.2,96.2 C405.7,94.1 406.3,92.2 406.8,90.2 C407.4,88.3 407.9,86.4 408.5,84.6 C409.1,82.7 409.6,80.9 410.2,79.1 C410.7,77.3 411.3,75.5 411.8,73.7 C412.4,72.0 413.2,69.4 413.5,68.5"/>
<path d="M396.9,107.5 C397.8,107.5 400.7,107.5 402.0,107.3 C403.3,107.0 403.8,107.5 404.5,106.0 C405.2,104.5 405.7,100.8 406.2,98.5 C406.8,96.2 407.4,94.2 408.0,92.0 C408.6,89.9 409.2,87.9 409.8,85.9 C410.3,83.9 410.9,81.9 411.5,80.0 C412.1,78.0 412.7,76.1 413.2,74.2 C413.8,72.3 414.7,69.4 415.0,68.5"/>
<path d="M396.9,72.1 C398.0,71.9 401.5,71.5 403.7,71.0 C405.9,70.5 408.3,69.4 410.0,69.0 C411.7,68.6 413.3,68.6 414.0,68.5"/>
<path d="M396.9,75.0 C398.0,74.7 402.0,74.0 403.7,73.3 C405.4,72.6 406.1,71.8 407.0,71.0 C407.9,70.2 408.7,68.9 409.0,68.5"/>
<path d="M396.9,78.5 C398.0,78.0 402.2,76.7 403.7,75.6 C405.2,74.5 405.4,73.2 406.0,72.0 C406.6,70.8 407.2,69.1 407.5,68.5"/>
<path d="M396.9,83.7 C398.0,83.1 402.3,81.7 403.7,80.2 C405.1,78.8 405.0,77.0 405.5,75.0 C406.0,73.0 406.3,69.6 406.5,68.5"/>
<path d="M396.9,86.0 C397.8,85.8 400.7,86.3 402.0,85.0 C403.3,83.7 403.8,80.8 404.5,78.0 C405.2,75.2 405.8,70.1 406.0,68.5"/>
<path d="M396.9,88.9 C397.8,88.8 400.7,89.5 402.0,88.0 C403.3,86.5 403.9,83.2 404.5,80.0 C405.1,76.8 405.3,70.4 405.5,68.5"/>
<path d="M396.9,181.2 C397.9,181.0 401.1,180.8 402.7,180.1 C404.3,179.4 404.9,179.3 406.6,177.0 C408.4,174.7 410.6,168.7 413.2,166.0 C415.8,163.3 418.2,162.4 421.9,160.6 C425.6,158.8 433.1,156.0 435.3,155.1"/>
<path d="M396.9,111.1 C397.5,110.9 399.6,110.9 400.8,110.1 C402.0,109.3 403.0,107.7 404.0,106.5 C405.0,105.3 405.8,104.7 406.6,102.9 C407.4,101.2 408.2,98.5 409.0,96.0 C409.8,93.5 410.7,90.7 411.5,88.0 C412.3,85.3 413.1,82.4 414.0,80.0 C414.9,77.6 415.8,75.0 417.0,73.5 C418.2,72.0 419.2,71.4 421.0,71.0 C422.8,70.6 425.6,71.0 428.0,71.0 C430.4,71.0 434.1,71.2 435.3,71.3"/>
<path d="M396.9,115.3 C397.8,115.2 400.8,115.4 402.2,114.5 C403.6,113.6 404.5,111.5 405.5,110.0 C406.5,108.5 407.2,107.6 408.0,105.8 C408.8,104.0 409.7,101.5 410.5,99.0 C411.3,96.5 412.2,93.5 413.0,91.0 C413.8,88.5 414.6,86.2 415.5,84.0 C416.4,81.8 417.4,79.5 418.5,78.0 C419.6,76.5 420.4,75.7 422.0,75.0 C423.6,74.3 425.8,74.0 428.0,73.8 C430.2,73.6 434.1,73.8 435.3,73.8"/>
<path d="M396.9,122.1 C397.5,122.0 399.4,122.7 400.8,121.7 C402.2,120.7 403.7,118.1 405.1,115.9 C406.6,113.7 408.1,111.4 409.5,108.7 C410.9,106.0 412.6,102.8 413.8,100.0 C415.0,97.2 415.6,94.5 416.5,92.0 C417.4,89.5 418.1,86.9 419.0,85.0 C419.9,83.1 420.7,81.5 422.0,80.5 C423.3,79.5 424.8,79.2 427.0,79.0 C429.2,78.8 433.9,79.1 435.3,79.1"/>
<path d="M396.9,128.0 C397.8,128.1 400.3,128.9 402.2,128.3 C404.1,127.7 406.3,126.4 408.0,124.6 C409.7,122.8 410.9,120.1 412.4,117.4 C413.8,114.8 415.4,111.6 416.7,108.7 C418.0,105.8 419.3,102.8 420.4,100.0 C421.4,97.2 422.1,94.3 423.0,92.0 C423.9,89.7 424.5,87.6 425.5,86.0 C426.5,84.4 427.4,83.3 429.0,82.5 C430.6,81.7 434.2,81.6 435.3,81.4"/>
<path d="M396.9,136.5 C398.0,136.4 401.4,137.0 403.7,136.2 C406.0,135.4 408.7,134.1 410.9,131.9 C413.1,129.7 415.0,126.1 416.7,123.2 C418.4,120.3 419.7,117.7 421.1,114.5 C422.6,111.3 424.3,107.0 425.4,104.3 C426.5,101.5 426.8,99.9 427.5,98.0 C428.2,96.1 428.8,94.3 429.5,93.0 C430.2,91.7 431.0,90.8 432.0,90.0 C433.0,89.2 434.8,88.8 435.3,88.5"/>
<path d="M396.9,144.0 C398.3,143.8 402.5,143.6 405.1,142.8 C407.7,142.0 410.0,141.4 412.4,139.1 C414.8,136.8 417.4,132.6 419.6,129.0 C421.8,125.4 423.7,121.0 425.4,117.4 C427.1,113.8 428.7,109.4 429.8,107.2 C430.9,105.0 431.1,104.9 432.0,104.3 C432.9,103.7 434.8,103.6 435.3,103.5"/>
<path d="M396.9,150.8 C398.5,150.7 403.8,150.5 406.6,150.0 C409.4,149.5 411.4,149.4 413.8,147.8 C416.2,146.2 418.9,142.3 421.1,140.6 C423.3,138.9 424.5,138.3 426.9,137.7 C429.3,137.1 433.9,137.2 435.3,137.1"/>
<path d="M396.9,158.4 C398.1,158.4 401.9,158.5 404.0,158.5 C406.1,158.5 408.0,159.0 409.5,158.6 C411.0,158.2 411.6,157.6 413.0,156.0 C414.4,154.4 416.4,151.4 418.2,149.3 C420.0,147.2 422.4,145.1 424.0,143.5 C425.6,141.9 426.1,140.6 428.0,139.5 C429.9,138.4 434.1,137.5 435.3,137.1"/>
<path d="M397.0,69.2 L511.2,69.0"/>
<path d="M435.3,71.3 C438.5,71.6 448.1,72.8 454.3,72.9 C460.5,73.0 467.2,72.5 472.6,72.1 C478.0,71.7 480.2,70.6 486.6,70.5 C493.0,70.4 507.1,71.2 511.2,71.3"/>
<path d="M470.0,69.5 C472.8,69.6 482.5,69.6 486.6,70.0 C490.7,70.4 490.6,71.5 494.7,72.1 C498.8,72.7 508.4,73.4 511.2,73.7"/>
<path d="M435.3,73.8 C437.1,74.2 442.8,75.8 446.0,76.5 C449.2,77.2 449.9,77.7 454.3,77.8 C458.7,77.9 468.0,76.8 472.6,76.9 C477.2,77.0 478.7,77.5 481.8,78.6 C484.9,79.7 488.8,82.5 491.5,83.4 C494.2,84.3 494.7,84.1 498.0,84.2 C501.3,84.3 509.0,84.2 511.2,84.2"/>
<path d="M435.3,79.1 C437.1,79.4 441.7,80.3 446.2,81.0 C450.7,81.7 458.0,82.9 462.4,83.4 C466.8,83.9 469.4,83.5 472.6,84.2 C475.8,84.9 478.7,86.3 481.8,87.5 C484.9,88.7 486.6,91.0 491.5,91.5 C496.4,92.0 507.9,90.8 511.2,90.7"/>
<path d="M435.3,81.4 C437.1,81.6 443.0,82.0 446.2,82.6 C449.4,83.2 451.6,84.0 454.3,85.0 C457.0,86.0 459.3,87.9 462.4,88.3 C465.4,88.7 468.6,87.4 472.6,87.5 C476.6,87.6 482.4,88.1 486.6,89.0 C490.8,89.9 493.9,91.9 498.0,93.0 C502.1,94.1 509.0,95.1 511.2,95.5"/>
<path d="M435.3,88.5 C437.1,88.4 442.8,87.5 446.2,88.0 C449.6,88.5 453.2,90.1 455.9,91.5 C458.6,92.9 459.6,95.3 462.4,96.4 C465.2,97.5 468.6,98.0 472.6,98.0 C476.6,98.0 482.4,96.1 486.6,96.4 C490.8,96.7 493.9,98.7 498.0,99.6 C502.1,100.5 509.0,101.6 511.2,102.0"/>
<path d="M435.3,88.5 C436.1,88.9 438.2,89.7 440.0,91.0 C441.8,92.3 443.6,94.4 446.2,96.4 C448.8,98.4 451.5,101.0 455.9,102.8 C460.3,104.5 467.5,105.8 472.6,106.9 C477.7,108.0 481.6,108.5 486.6,109.3 C491.6,110.1 498.7,111.0 502.8,111.7 C506.9,112.4 509.8,113.1 511.2,113.4"/>
<path d="M435.3,83.4 C437.1,83.7 442.9,84.1 446.2,85.0 C449.5,85.9 452.3,87.5 455.0,89.0 C457.7,90.5 459.5,92.7 462.4,93.9 C465.3,95.1 468.6,95.6 472.6,96.4 C476.6,97.2 481.6,97.5 486.6,98.8 C491.6,100.1 498.7,103.3 502.8,104.5 C506.9,105.7 509.8,105.8 511.2,106.1"/>
<path d="M435.3,103.5 C436.0,103.5 437.9,103.2 439.7,103.5 C441.5,103.8 443.5,103.8 446.2,105.3 C448.9,106.8 452.9,110.2 455.9,112.5 C458.9,114.8 461.2,117.9 464.0,119.0 C466.8,120.1 468.8,118.9 472.6,119.0 C476.4,119.1 481.6,119.0 486.6,119.8 C491.6,120.6 498.7,122.8 502.8,123.9 C506.9,125.0 509.8,125.9 511.2,126.3"/>
<path d="M435.3,137.1 C438.6,137.2 448.6,137.2 454.8,137.5 C461.0,137.8 467.1,138.9 472.6,138.6 C478.1,138.2 483.4,137.0 487.7,135.4 C492.0,133.8 494.8,130.6 498.7,128.8 C502.6,127.0 509.1,125.1 511.2,124.4"/>
<path d="M435.3,155.1 C438.6,154.9 448.6,154.4 454.8,154.0 C461.0,153.6 467.9,153.5 472.6,152.9 C477.4,152.3 479.3,152.2 483.3,150.7 C487.3,149.2 491.9,146.3 496.5,144.1 C501.1,141.9 508.8,138.6 511.2,137.5"/>
<path d="M320.9,288.6 C322.3,288.7 326.9,289.0 329.6,289.3 C332.3,289.6 335.1,290.9 337.3,290.5 C339.6,290.1 340.9,288.9 343.1,287.0 C345.4,285.1 348.2,281.4 350.8,279.3 C353.4,277.2 357.1,275.3 358.4,274.5"/>
<path d="M324.0,328.0 C324.6,327.3 325.5,327.0 327.7,323.7 C329.9,320.4 334.1,313.8 337.3,308.3 C340.5,302.8 344.1,295.4 347.0,290.9 C349.9,286.4 352.8,283.2 354.7,281.2 C356.6,279.2 357.8,279.3 358.4,278.9"/>
<path d="M320.9,304.2 C322.4,304.2 327.3,304.4 330.0,304.5 C332.7,304.6 334.2,304.2 337.3,304.8 C340.4,305.4 345.4,308.1 348.9,308.3 C352.4,308.6 356.8,306.6 358.4,306.3"/>
<path d="M320.9,311.2 C322.2,311.2 326.3,310.7 329.0,311.5 C331.7,312.3 334.3,315.1 337.3,316.0 C340.3,316.9 343.5,316.7 347.0,317.0 C350.5,317.3 356.5,317.8 358.4,317.9"/>
<path d="M321.8,327.7 C322.5,329.1 324.6,333.1 326.0,336.0 C327.4,338.9 329.0,344.7 330.5,345.0 C332.0,345.3 333.4,340.5 335.0,338.0 C336.6,335.5 338.0,333.0 340.0,330.0 C342.0,327.0 344.8,323.3 346.8,320.0 C348.8,316.7 350.1,313.1 352.0,310.0 C353.9,306.9 357.3,302.9 358.4,301.5"/>
<path d="M323.8,320.0 C324.3,322.0 325.9,327.9 327.0,332.0 C328.1,336.1 329.3,341.2 330.5,344.5 C331.7,347.8 332.8,349.8 334.0,352.0 C335.2,354.2 337.3,357.0 338.0,358.0"/>
<path d="M330.0,382.5 C330.7,380.4 332.5,374.6 334.0,370.0 C335.5,365.4 337.3,359.8 339.0,355.0 C340.7,350.2 342.3,345.3 344.0,341.0 C345.7,336.7 347.5,332.5 349.0,329.0 C350.5,325.5 351.4,322.2 353.0,320.0 C354.6,317.8 357.5,316.7 358.4,316.0"/>
<path d="M334.0,382.5 C334.7,380.4 336.7,374.1 338.0,370.0 C339.3,365.9 340.7,361.8 342.0,358.0 C343.3,354.2 344.7,350.3 346.0,347.0 C347.3,343.7 348.7,340.8 350.0,338.0 C351.3,335.2 352.6,332.6 354.0,330.0 C355.4,327.4 357.7,323.9 358.4,322.7"/>
<path d="M338.0,382.5 C338.7,380.4 340.7,373.8 342.0,370.0 C343.3,366.2 344.7,363.3 346.0,360.0 C347.3,356.7 348.7,353.3 350.0,350.0 C351.3,346.7 352.6,343.2 354.0,340.0 C355.4,336.8 357.7,332.2 358.4,330.6"/>
<path d="M342.0,382.5 C342.7,380.8 344.7,375.2 346.0,372.0 C347.3,368.8 348.7,366.0 350.0,363.0 C351.3,360.0 352.6,356.7 354.0,354.0 C355.4,351.3 357.7,348.1 358.4,346.9"/>
<path d="M320.9,350.0 C321.8,350.8 324.3,353.3 326.0,355.0 C327.7,356.7 329.2,358.8 331.0,360.0 C332.8,361.2 335.0,362.0 337.0,362.0 C339.0,362.0 340.8,360.8 343.0,360.0 C345.2,359.2 347.4,357.7 350.0,357.0 C352.6,356.3 357.0,355.8 358.4,355.6"/>
<path d="M320.9,358.0 C321.8,358.7 324.1,360.5 326.0,362.0 C327.9,363.5 329.8,366.0 332.0,367.0 C334.2,368.0 336.7,368.5 339.0,368.0 C341.3,367.5 343.8,365.2 346.0,364.0 C348.2,362.8 349.9,361.8 352.0,361.0 C354.1,360.2 357.3,359.7 358.4,359.4"/>
<path d="M320.9,365.0 C321.9,365.5 325.0,366.8 327.0,368.0 C329.0,369.2 330.8,371.2 333.0,372.0 C335.2,372.8 337.7,373.5 340.0,373.0 C342.3,372.5 344.8,370.2 347.0,369.0 C349.2,367.8 351.1,366.8 353.0,366.0 C354.9,365.2 357.5,364.5 358.4,364.2"/>
<path d="M320.9,372.0 C321.9,372.3 324.8,373.2 327.0,374.0 C329.2,374.8 331.7,376.3 334.0,377.0 C336.3,377.7 338.7,378.3 341.0,378.0 C343.3,377.7 345.8,376.0 348.0,375.0 C350.2,374.0 352.3,372.2 354.0,372.0 C355.7,371.8 357.7,373.5 358.4,373.8"/>
<path d="M320.9,378.0 C322.1,378.3 325.5,379.4 328.0,380.0 C330.5,380.6 333.3,381.3 336.0,381.5 C338.7,381.7 341.5,381.6 344.0,381.0 C346.5,380.4 348.6,378.7 351.0,378.0 C353.4,377.3 357.2,376.9 358.4,376.7"/>
<path d="M320.9,340.0 C321.6,340.5 323.6,341.3 325.0,343.0 C326.4,344.7 327.7,347.2 329.0,350.0 C330.3,352.8 331.8,356.7 333.0,360.0 C334.2,363.3 335.0,366.2 336.0,370.0 C337.0,373.8 338.5,380.4 339.0,382.5"/>
<path d="M358.4,274.5 C361.3,274.2 370.6,273.2 375.9,272.5 C381.2,271.8 386.5,270.9 390.0,270.5 C393.5,270.1 395.8,270.3 396.9,270.3"/>
<path d="M358.4,278.9 C359.7,278.8 362.4,277.6 366.3,278.3 C370.2,279.0 376.6,281.3 381.7,283.2 C386.8,285.1 394.4,288.5 396.9,289.6"/>
<path d="M358.4,301.5 C361.3,300.9 370.4,299.1 375.9,297.6 C381.4,296.2 387.9,293.7 391.4,292.8 C394.9,291.9 396.0,292.5 396.9,292.4"/>
<path d="M358.4,306.3 C361.3,306.1 369.5,306.0 375.9,305.4 C382.3,304.8 393.4,303.1 396.9,302.6"/>
<path d="M358.4,309.5 C361.3,309.4 369.5,308.9 375.9,309.2 C382.3,309.4 393.4,310.7 396.9,311.0"/>
<path d="M358.4,317.9 C361.3,317.6 369.5,316.5 375.9,316.0 C382.3,315.5 393.4,315.2 396.9,315.1"/>
<path d="M358.4,322.7 C361.3,322.6 369.5,321.9 375.9,321.8 C382.3,321.7 393.4,322.0 396.9,322.0"/>
<path d="M358.4,330.6 C361.3,330.9 369.6,331.8 375.7,332.5 C381.8,333.2 391.4,334.6 394.9,335.0 C398.4,335.4 396.6,334.8 396.9,334.8"/>
<path d="M358.4,346.9 C361.3,346.6 369.3,345.6 375.7,345.0 C382.1,344.4 393.4,343.8 396.9,343.5"/>
<path d="M358.4,355.6 C361.3,355.6 369.3,355.2 375.7,355.5 C382.1,355.8 393.4,357.2 396.9,357.5"/>
<path d="M358.4,359.4 C361.3,359.6 369.3,360.0 375.7,360.5 C382.1,361.0 393.4,362.0 396.9,362.3"/>
<path d="M358.4,364.2 C361.3,364.5 369.3,365.7 375.7,366.0 C382.1,366.3 393.4,366.0 396.9,366.0"/>
<path d="M358.4,373.8 C361.3,373.5 369.3,372.2 375.7,371.9 C382.1,371.6 393.4,372.0 396.9,372.0"/>
<path d="M358.4,376.7 C361.3,376.8 369.3,377.2 375.7,377.5 C382.1,377.8 393.4,378.3 396.9,378.5"/>
<path d="M396.9,270.3 C397.6,270.4 399.2,270.0 401.0,270.7 C402.8,271.4 405.8,273.1 407.9,274.7 C410.0,276.3 411.8,278.6 413.7,280.5 C415.6,282.4 417.8,284.9 419.5,286.3 C421.2,287.8 422.6,288.8 424.1,289.2 C425.7,289.6 426.9,289.1 428.8,288.9 C430.7,288.7 434.2,288.2 435.3,288.1"/>
<path d="M396.9,289.6 C398.0,289.7 401.1,289.6 403.3,290.4 C405.5,291.2 408.3,293.4 410.2,294.4 C412.1,295.4 413.1,296.0 414.9,296.5 C416.6,297.0 419.0,296.5 420.7,297.3 C422.4,298.1 423.8,299.7 425.3,301.4 C426.8,303.1 428.2,306.2 429.9,307.5 C431.6,308.8 434.4,309.0 435.3,309.3"/>
<path d="M396.9,292.4 C398.0,292.5 401.1,292.4 403.3,293.3 C405.5,294.2 408.1,296.0 410.2,297.9 C412.3,299.8 414.4,302.5 416.0,304.9 C417.6,307.2 418.8,309.8 420.0,312.0 C421.2,314.2 421.8,315.7 423.0,318.0 C424.2,320.3 425.7,323.3 427.0,326.0 C428.3,328.7 429.7,330.6 431.0,334.0 C432.3,337.4 433.8,343.3 434.6,346.3 C435.4,349.3 435.8,351.1 436.0,352.0"/>
<path d="M396.9,302.6 C398.0,302.9 400.9,303.0 403.3,304.1 C405.7,305.2 409.1,308.1 411.4,309.3 C413.7,310.6 415.1,310.9 417.2,311.6 C419.3,312.3 422.2,312.9 424.1,313.3 C426.0,313.7 427.5,313.2 428.8,313.9 C430.1,314.6 431.1,316.1 432.2,317.4 C433.3,318.6 434.8,320.7 435.3,321.4"/>
<path d="M396.9,311.0 C398.3,311.1 403.0,310.9 405.6,311.6 C408.2,312.3 410.6,314.1 412.5,315.1 C414.4,316.1 415.4,316.0 417.2,317.4 C418.9,318.8 421.4,321.1 423.0,323.2 C424.6,325.3 425.8,327.7 427.0,330.0 C428.2,332.3 429.0,334.5 430.0,337.0 C431.0,339.5 432.0,342.5 433.0,345.0 C434.0,347.5 435.5,350.8 436.0,352.0"/>
<path d="M396.9,315.1 C398.0,315.3 401.5,315.4 403.3,316.2 C405.1,317.0 406.4,317.8 407.9,319.7 C409.4,321.6 410.9,325.1 412.5,327.8 C414.1,330.5 415.6,333.4 417.2,335.9 C418.8,338.4 420.4,341.3 421.8,342.9 C423.2,344.4 424.1,345.8 425.3,345.2 C426.5,344.6 427.7,341.5 428.8,339.4 C429.9,337.3 431.1,334.5 432.2,332.4 C433.3,330.3 434.8,327.6 435.3,326.7"/>
<path d="M396.9,322.0 C398.3,322.1 403.4,321.6 405.6,322.6 C407.8,323.6 408.6,325.6 410.2,327.8 C411.8,330.0 413.3,333.2 414.9,335.9 C416.4,338.6 418.1,341.3 419.5,344.0 C420.9,346.7 421.9,349.3 423.0,352.0 C424.1,354.7 425.0,357.3 426.0,360.0 C427.0,362.7 428.5,366.7 429.0,368.0"/>
<path d="M396.9,334.8 C397.8,334.6 400.7,333.6 402.1,333.6 C403.6,333.6 404.2,333.6 405.6,334.8 C407.0,336.0 408.8,338.2 410.2,340.6 C411.6,343.0 412.7,346.1 414.0,349.0 C415.3,351.9 416.7,355.0 418.0,358.0 C419.3,361.0 420.7,364.0 422.0,367.0 C423.3,370.0 425.0,373.4 426.0,376.0 C427.0,378.6 427.7,381.4 428.0,382.5"/>
<path d="M396.9,343.5 C398.3,343.6 403.4,343.1 405.6,344.0 C407.8,344.9 408.6,346.7 410.0,349.0 C411.4,351.3 412.7,354.8 414.0,358.0 C415.3,361.2 416.8,364.8 418.0,368.0 C419.2,371.2 420.2,374.6 421.0,377.0 C421.8,379.4 422.7,381.6 423.0,382.5"/>
<path d="M396.9,357.5 C397.9,357.6 401.3,357.2 403.0,358.0 C404.7,358.8 405.7,360.0 407.0,362.0 C408.3,364.0 409.7,367.3 411.0,370.0 C412.3,372.7 414.0,375.9 415.0,378.0 C416.0,380.1 416.7,381.8 417.0,382.5"/>
<path d="M396.9,362.3 C397.8,362.6 400.5,362.7 402.0,364.0 C403.5,365.3 404.8,367.8 406.0,370.0 C407.2,372.2 408.2,374.9 409.0,377.0 C409.8,379.1 410.7,381.6 411.0,382.5"/>
<path d="M396.9,366.0 C397.6,366.3 399.8,366.7 401.0,368.0 C402.2,369.3 403.0,371.6 404.0,374.0 C405.0,376.4 406.5,381.1 407.0,382.5"/>
<path d="M396.9,372.0 C397.4,372.5 399.0,373.2 400.0,375.0 C401.0,376.8 402.5,381.2 403.0,382.5"/>
<path d="M431.1,334.8 L435.3,341.7"/>
<path d="M435.3,288.1 C437.1,288.2 442.5,288.0 446.2,288.9 C449.9,289.8 454.0,291.9 457.5,293.7 C461.0,295.4 464.7,298.3 467.2,299.4 C469.7,300.5 469.4,300.1 472.6,300.2 C475.8,300.3 482.0,300.4 486.5,300.2 C491.0,300.0 495.4,299.5 499.5,299.1 C503.6,298.7 509.2,298.0 511.2,297.8"/>
<path d="M435.3,309.3 C438.4,309.2 448.0,308.8 454.2,308.8 C460.4,308.8 465.9,309.2 472.6,309.4 C479.3,309.6 488.2,309.8 494.6,309.9 C501.0,310.0 508.4,309.9 511.2,309.9"/>
<path d="M435.3,321.4 C436.6,321.0 439.8,319.9 442.9,318.8 C446.0,317.7 449.2,315.8 454.2,314.7 C459.1,313.6 467.2,312.6 472.6,312.3 C478.0,312.0 482.0,312.4 486.5,313.1 C491.0,313.8 495.4,315.4 499.5,316.3 C503.6,317.2 509.2,318.4 511.2,318.8"/>
<path d="M435.3,326.7 C436.6,326.9 440.3,327.1 442.9,327.7 C445.5,328.3 448.3,330.5 451.0,330.1 C453.7,329.7 455.5,327.4 459.1,325.2 C462.7,323.0 468.0,318.3 472.6,317.2 C477.2,316.1 482.0,318.1 486.5,318.8 C491.0,319.5 495.4,320.5 499.5,321.2 C503.6,321.9 509.2,322.5 511.2,322.8"/>
<path d="M435.3,334.1 C437.1,334.8 442.0,337.7 446.0,338.0 C450.0,338.3 454.7,335.8 459.1,335.7 C463.5,335.6 468.0,337.7 472.6,337.3 C477.2,336.9 482.0,334.8 486.5,333.3 C491.0,331.8 495.4,329.6 499.5,328.5 C503.6,327.4 509.2,327.1 511.2,326.8"/>
<path d="M435.3,341.7 C437.1,341.5 441.7,341.2 446.2,340.6 C450.7,340.0 457.9,338.3 462.3,338.2 C466.7,338.1 468.6,340.2 472.6,340.0 C476.6,339.8 482.0,337.9 486.5,337.0 C491.0,336.1 495.4,335.5 499.5,334.9 C503.6,334.3 509.2,333.6 511.2,333.3"/>
<path d="M436.0,352.0 C437.5,351.0 442.5,347.2 445.0,346.0 C447.5,344.8 448.8,344.4 451.0,344.6 C453.2,344.8 455.7,345.8 458.0,347.0 C460.3,348.2 462.6,350.8 465.0,352.0 C467.4,353.2 469.3,354.3 472.6,354.0 C475.9,353.7 480.8,351.5 485.0,350.0 C489.2,348.5 493.6,346.3 498.0,345.0 C502.4,343.7 509.0,342.5 511.2,342.0"/>
<path d="M429.0,368.0 C430.1,366.7 432.6,362.0 435.3,360.0 C438.0,358.0 441.7,356.7 445.0,356.0 C448.3,355.3 451.7,355.7 455.0,356.0 C458.3,356.3 462.1,357.6 465.0,358.0 C467.9,358.4 469.3,358.8 472.6,358.5 C475.9,358.2 480.8,357.1 485.0,356.0 C489.2,354.9 493.6,353.2 498.0,352.0 C502.4,350.8 509.0,349.5 511.2,349.0"/>
<path d="M428.0,382.5 C429.2,380.8 432.5,374.8 435.3,372.0 C438.1,369.2 441.7,367.3 445.0,366.0 C448.3,364.7 451.7,364.2 455.0,364.0 C458.3,363.8 462.1,364.7 465.0,365.0 C467.9,365.3 469.3,366.2 472.6,366.0 C475.9,365.8 480.8,365.0 485.0,364.0 C489.2,363.0 493.6,361.2 498.0,360.0 C502.4,358.8 509.0,357.5 511.2,357.0"/>
<path d="M423.0,382.5 C425.1,381.8 430.8,379.6 435.3,378.0 C439.8,376.4 445.1,374.0 450.0,373.0 C454.9,372.0 461.2,372.0 465.0,372.0 C468.8,372.0 468.4,373.2 472.6,373.0 C476.8,372.8 483.6,372.2 490.0,371.0 C496.4,369.8 507.7,366.8 511.2,366.0"/>
<path d="M440.0,382.5 C442.5,381.9 449.6,379.6 455.0,379.0 C460.4,378.4 466.8,379.3 472.6,379.0 C478.4,378.7 483.6,377.8 490.0,377.0 C496.4,376.2 507.7,374.5 511.2,374.0"/>
<path d="M460.0,382.5 C463.3,382.3 474.2,381.9 480.0,381.5 C485.8,381.1 489.8,380.2 495.0,380.0 C500.2,379.8 508.5,380.4 511.2,380.5"/>
<path d="M434.0,347.0 C435.3,347.2 439.3,348.1 442.0,348.5 C444.7,348.9 447.0,349.5 450.0,349.5 C453.0,349.5 456.2,349.0 460.0,348.5 C463.8,348.0 467.6,347.1 472.6,346.5 C477.6,345.9 483.6,345.0 490.0,345.0 C496.4,345.0 507.7,346.2 511.2,346.5"/>
<path d="M431.0,365.0 C432.5,364.8 436.8,364.5 440.0,364.0 C443.2,363.5 446.7,362.4 450.0,362.0 C453.3,361.6 456.2,361.4 460.0,361.5 C463.8,361.6 467.6,362.3 472.6,362.5 C477.6,362.7 483.6,362.8 490.0,362.5 C496.4,362.2 507.7,361.2 511.2,361.0"/>
<path d="M428.0,372.0 C429.2,371.6 431.6,370.0 435.3,369.5 C439.0,369.0 443.8,368.9 450.0,369.0 C456.2,369.1 465.9,370.2 472.6,370.0 C479.3,369.8 483.6,368.1 490.0,368.0 C496.4,367.9 507.7,369.2 511.2,369.5"/>
</g>
<g stroke="#33ad6a" stroke-width="1.8" filter="url(#fcb)">
<path d="M320.9,215.5 C322.3,215.4 326.1,215.9 329.5,214.8 C332.9,213.7 337.1,210.9 341.0,209.0 C344.9,207.1 349.7,204.4 352.6,203.3 C355.5,202.2 354.6,202.7 358.5,202.3 C362.4,201.9 369.6,201.4 375.7,200.8 C381.8,200.2 390.7,198.9 394.9,198.5 C399.1,198.1 398.1,197.2 400.7,198.5 C403.3,199.8 407.1,203.4 410.3,206.2 C413.5,209.0 416.5,211.8 420.1,215.3 C423.8,218.8 429.6,225.0 432.2,227.0 C434.8,229.0 433.7,227.7 435.4,227.4 C437.1,227.1 439.1,226.8 442.3,225.4 C445.5,224.1 450.7,221.0 454.4,219.3 C458.1,217.6 461.5,216.1 464.5,215.3 C467.5,214.5 468.2,214.7 472.6,214.3 C477.0,213.9 484.4,213.4 490.8,212.9 C497.2,212.4 507.8,211.6 511.2,211.3"/>
<path d="M320.9,226.0 C322.0,226.1 324.6,225.4 327.6,226.3 C330.7,227.2 335.4,229.4 339.2,231.2 C343.0,233.0 347.5,236.0 350.7,237.3 C353.9,238.6 354.3,239.0 358.5,239.2 C362.7,239.4 369.3,238.9 375.7,238.5 C382.1,238.1 389.8,236.8 396.8,236.5 C403.9,236.2 411.6,236.1 418.0,236.5 C424.4,236.9 429.3,239.9 435.4,239.1 C441.5,238.3 448.2,233.8 454.4,231.8 C460.6,229.9 466.5,228.5 472.6,227.4 C478.7,226.3 484.4,226.1 490.8,225.4 C497.2,224.7 507.8,223.7 511.2,223.4"/>
</g></g>
<rect x="320.9" y="68.3" width="190.3" height="315.0" fill="none" stroke="#9a9a9a" stroke-width="1.3"/>
<line x1="320.9" y1="107.7" x2="325.4" y2="107.7" stroke="#9a9a9a" stroke-width="1.1"/>
<line x1="320.9" y1="147.1" x2="325.4" y2="147.1" stroke="#9a9a9a" stroke-width="1.1"/>
<line x1="320.9" y1="186.4" x2="325.4" y2="186.4" stroke="#9a9a9a" stroke-width="1.1"/>
<line x1="320.9" y1="225.8" x2="325.4" y2="225.8" stroke="#9a9a9a" stroke-width="1.1"/>
<line x1="320.9" y1="265.2" x2="325.4" y2="265.2" stroke="#9a9a9a" stroke-width="1.1"/>
<line x1="320.9" y1="304.6" x2="325.4" y2="304.6" stroke="#9a9a9a" stroke-width="1.1"/>
<line x1="320.9" y1="343.9" x2="325.4" y2="343.9" stroke="#9a9a9a" stroke-width="1.1"/>
<g font-family="'Liberation Sans', Arial, sans-serif" fill="#000" stroke="#000" stroke-width="0.3">
<text x="82.5" y="75.6" text-anchor="end" font-size="25">2.0</text>
<text x="82.5" y="153.6" text-anchor="end" font-size="25">1.0</text>
<text x="82.5" y="232.8" text-anchor="end" font-size="25">0.0</text>
<text x="82.5" y="312.4" text-anchor="end" font-size="25"><tspan dy="-1" textLength="10.4" lengthAdjust="spacingAndGlyphs">-</tspan><tspan dy="1" dx="1.2">1.0</tspan></text>
<text x="82.5" y="389.6" text-anchor="end" font-size="25"><tspan dy="-1" textLength="10.4" lengthAdjust="spacingAndGlyphs">-</tspan><tspan dy="1" dx="1.2">2.0</tspan></text>
<text x="102.4" y="409" text-anchor="middle" font-size="23.5">A</text>
<text x="135.0" y="409" text-anchor="middle" font-size="23.5">X</text>
<text x="173.0" y="409" text-anchor="middle" font-size="23.5">Γ</text>
<text x="211.3" y="409" text-anchor="middle" font-size="23.5">Z</text>
<text x="251.7" y="409" text-anchor="middle" font-size="23.5">D</text>
<text x="286.3" y="409" text-anchor="middle" font-size="23.5">M</text>
<text x="325.0" y="409" text-anchor="middle" font-size="23.5">A</text>
<text x="357.4" y="409" text-anchor="middle" font-size="23.5">X</text>
<text x="395.2" y="409" text-anchor="middle" font-size="23.5">Γ</text>
<text x="433.6" y="409" text-anchor="middle" font-size="23.5">Z</text>
<text x="473.8" y="409" text-anchor="middle" font-size="23.5">D</text>
<text x="508.9" y="409" text-anchor="middle" font-size="23.5">M</text>
<text x="83" y="33.3" font-size="39">(a)</text>
<text x="311.5" y="33.3" font-size="39">(b)</text>
<text x="144" y="19" font-size="22">Cu<tspan font-size="14.5" font-weight="bold" dy="5">1.97</tspan><tspan dy="-5">Sn</tspan><tspan font-size="14.5" dy="5">0.03</tspan><tspan dy="-5">S</tspan></text>
<text x="148.5" y="44" font-size="22">(Sn<tspan font-size="14.5" dy="5">Cu</tspan><tspan dy="-5">:Cu</tspan><tspan font-size="14.5" dy="5">2</tspan><tspan dy="-5">S)</tspan></text>
<text x="373" y="19" font-size="22">Cu<tspan font-size="14.5" font-weight="bold" dy="5">1.94</tspan><tspan dy="-5">Sn</tspan><tspan font-size="14.5" dy="5">0.06</tspan><tspan dy="-5">S</tspan></text>
<text x="372.5" y="44" font-size="22">(2Sn<tspan font-size="14.5" dy="5">Cu</tspan><tspan dy="-5">:Cu</tspan><tspan font-size="14.5" dy="5">2</tspan><tspan dy="-5">S)</tspan></text>
<text transform="translate(20,322) rotate(-90)" font-size="24.5">Energy,</text>
<text transform="translate(20,225.6) rotate(-90)" font-size="24.5">E – E<tspan font-size="16" dy="5">f</tspan><tspan dy="-5"> (eV)</tspan></text>
</g>
</svg>
</body></html>
